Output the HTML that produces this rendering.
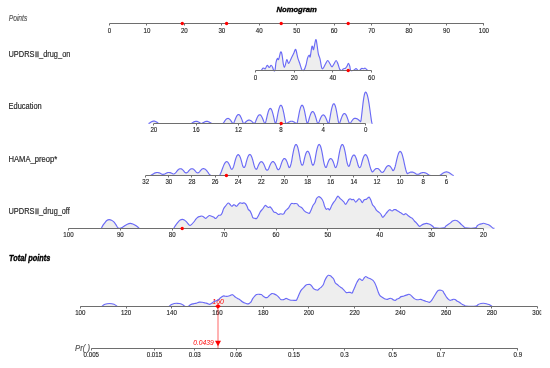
<!DOCTYPE html>
<html><head><meta charset="utf-8"><style>
html,body{margin:0;padding:0;background:#fff;}
svg{display:block;font-family:"Liberation Sans",Arial,sans-serif;}

</style></head><body>
<svg width="550" height="368" viewBox="0 0 550 368">
<rect width="550" height="368" fill="#fff"/>
<defs><clipPath id="c"><rect x="0" y="0" width="541.2" height="368"/></clipPath></defs>
<g clip-path="url(#c)">
<line x1="109.50" y1="23.5" x2="483.90" y2="23.5" stroke="#6e6e6e" stroke-width="1"/>
<line x1="109.50" y1="23.5" x2="109.50" y2="25.5" stroke="#6e6e6e" stroke-width="1"/>
<text x="109.50" y="33.00" font-size="7.0" text-anchor="middle" fill="#262626" textLength="3.43" lengthAdjust="spacingAndGlyphs" stroke="#262626" stroke-width="0.15">0</text>
<line x1="146.50" y1="23.5" x2="146.50" y2="25.5" stroke="#6e6e6e" stroke-width="1"/>
<text x="146.94" y="33.00" font-size="7.0" text-anchor="middle" fill="#262626" textLength="6.85" lengthAdjust="spacingAndGlyphs" stroke="#262626" stroke-width="0.15">10</text>
<line x1="184.50" y1="23.5" x2="184.50" y2="25.5" stroke="#6e6e6e" stroke-width="1"/>
<text x="184.38" y="33.00" font-size="7.0" text-anchor="middle" fill="#262626" textLength="6.85" lengthAdjust="spacingAndGlyphs" stroke="#262626" stroke-width="0.15">20</text>
<line x1="221.50" y1="23.5" x2="221.50" y2="25.5" stroke="#6e6e6e" stroke-width="1"/>
<text x="221.82" y="33.00" font-size="7.0" text-anchor="middle" fill="#262626" textLength="6.85" lengthAdjust="spacingAndGlyphs" stroke="#262626" stroke-width="0.15">30</text>
<line x1="259.50" y1="23.5" x2="259.50" y2="25.5" stroke="#6e6e6e" stroke-width="1"/>
<text x="259.26" y="33.00" font-size="7.0" text-anchor="middle" fill="#262626" textLength="6.85" lengthAdjust="spacingAndGlyphs" stroke="#262626" stroke-width="0.15">40</text>
<line x1="296.50" y1="23.5" x2="296.50" y2="25.5" stroke="#6e6e6e" stroke-width="1"/>
<text x="296.70" y="33.00" font-size="7.0" text-anchor="middle" fill="#262626" textLength="6.85" lengthAdjust="spacingAndGlyphs" stroke="#262626" stroke-width="0.15">50</text>
<line x1="334.50" y1="23.5" x2="334.50" y2="25.5" stroke="#6e6e6e" stroke-width="1"/>
<text x="334.14" y="33.00" font-size="7.0" text-anchor="middle" fill="#262626" textLength="6.85" lengthAdjust="spacingAndGlyphs" stroke="#262626" stroke-width="0.15">60</text>
<line x1="371.50" y1="23.5" x2="371.50" y2="25.5" stroke="#6e6e6e" stroke-width="1"/>
<text x="371.58" y="33.00" font-size="7.0" text-anchor="middle" fill="#262626" textLength="6.85" lengthAdjust="spacingAndGlyphs" stroke="#262626" stroke-width="0.15">70</text>
<line x1="409.50" y1="23.5" x2="409.50" y2="25.5" stroke="#6e6e6e" stroke-width="1"/>
<text x="409.02" y="33.00" font-size="7.0" text-anchor="middle" fill="#262626" textLength="6.85" lengthAdjust="spacingAndGlyphs" stroke="#262626" stroke-width="0.15">80</text>
<line x1="446.50" y1="23.5" x2="446.50" y2="25.5" stroke="#6e6e6e" stroke-width="1"/>
<text x="446.46" y="33.00" font-size="7.0" text-anchor="middle" fill="#262626" textLength="6.85" lengthAdjust="spacingAndGlyphs" stroke="#262626" stroke-width="0.15">90</text>
<line x1="483.50" y1="23.5" x2="483.50" y2="25.5" stroke="#6e6e6e" stroke-width="1"/>
<text x="483.90" y="33.00" font-size="7.0" text-anchor="middle" fill="#262626" textLength="10.28" lengthAdjust="spacingAndGlyphs" stroke="#262626" stroke-width="0.15">100</text>
<path d="M261.40,70.50 C261.63,70.13 262.32,68.67 262.80,68.30 C263.28,67.93 263.88,68.22 264.30,68.30 C264.72,68.38 264.82,69.30 265.30,68.80 C265.78,68.30 266.55,65.52 267.20,65.30 C267.85,65.08 268.55,67.50 269.20,67.50 C269.85,67.50 270.53,65.33 271.10,65.30 C271.67,65.27 272.18,66.48 272.60,67.30 C273.02,68.12 273.20,69.72 273.60,70.20 C274.00,70.68 274.60,71.50 275.00,70.20 C275.40,68.90 275.58,64.35 276.00,62.40 C276.42,60.45 277.05,59.02 277.50,58.50 C277.95,57.98 278.18,60.37 278.70,59.30 C279.22,58.23 280.07,52.97 280.60,52.10 C281.13,51.23 281.43,52.05 281.90,54.10 C282.37,56.15 283.00,62.20 283.40,64.40 C283.80,66.60 283.95,67.30 284.30,67.30 C284.65,67.30 285.08,65.70 285.50,64.40 C285.92,63.10 286.27,59.67 286.80,59.50 C287.33,59.33 287.97,63.57 288.70,63.40 C289.43,63.23 290.38,60.13 291.20,58.50 C292.02,56.87 292.85,55.10 293.60,53.60 C294.35,52.10 295.00,48.80 295.70,49.50 C296.40,50.20 297.12,55.47 297.80,57.80 C298.48,60.13 299.12,61.52 299.80,63.50 C300.48,65.48 301.20,68.62 301.90,69.70 C302.60,70.78 303.32,70.78 304.00,70.00 C304.68,69.22 305.40,67.03 306.00,65.00 C306.60,62.97 307.08,59.43 307.60,57.80 C308.12,56.17 308.67,55.38 309.10,55.20 C309.53,55.02 309.77,58.00 310.20,56.70 C310.63,55.40 311.32,49.12 311.70,47.40 C312.08,45.68 312.18,46.05 312.50,46.40 C312.82,46.75 313.05,50.62 313.60,49.50 C314.15,48.38 315.22,40.38 315.80,39.70 C316.38,39.02 316.67,42.98 317.10,45.40 C317.53,47.82 317.92,51.97 318.40,54.20 C318.88,56.43 319.43,56.48 320.00,58.80 C320.57,61.12 321.20,66.63 321.80,68.10 C322.40,69.57 322.95,68.37 323.60,67.60 C324.25,66.83 325.00,64.68 325.70,63.50 C326.40,62.32 327.07,60.42 327.80,60.50 C328.53,60.58 329.42,62.95 330.10,64.00 C330.78,65.05 331.28,66.77 331.90,66.80 C332.52,66.83 333.10,65.25 333.80,64.20 C334.50,63.15 335.42,60.57 336.10,60.50 C336.78,60.43 337.28,62.32 337.90,63.80 C338.52,65.28 339.18,68.28 339.80,69.40 C340.42,70.52 340.98,70.60 341.60,70.50 C342.22,70.40 342.85,69.18 343.50,68.80 C344.15,68.42 344.92,68.62 345.50,68.20 C346.08,67.78 346.52,67.12 347.00,66.30 C347.48,65.48 347.93,63.30 348.40,63.30 C348.87,63.30 349.42,65.13 349.80,66.30 C350.18,67.47 350.05,69.63 350.70,70.30 C351.35,70.97 352.82,70.60 353.70,70.30 C354.58,70.00 355.32,68.50 356.00,68.50 C356.68,68.50 357.18,70.00 357.80,70.30 C358.42,70.60 359.08,70.60 359.70,70.30 C360.32,70.00 360.88,68.77 361.50,68.50 C362.12,68.23 362.78,68.75 363.40,68.70 C364.02,68.65 364.58,67.98 365.20,68.20 C365.82,68.42 366.72,69.62 367.10,70.00 C367.48,70.38 367.43,70.42 367.50,70.50 L367.50,70.5 L261.40,70.5 Z" fill="#eeeeee" stroke="none"/>
<path d="M261.40,70.50 C261.63,70.13 262.32,68.67 262.80,68.30 C263.28,67.93 263.88,68.22 264.30,68.30 C264.72,68.38 264.82,69.30 265.30,68.80 C265.78,68.30 266.55,65.52 267.20,65.30 C267.85,65.08 268.55,67.50 269.20,67.50 C269.85,67.50 270.53,65.33 271.10,65.30 C271.67,65.27 272.18,66.48 272.60,67.30 C273.02,68.12 273.20,69.72 273.60,70.20 C274.00,70.68 274.60,71.50 275.00,70.20 C275.40,68.90 275.58,64.35 276.00,62.40 C276.42,60.45 277.05,59.02 277.50,58.50 C277.95,57.98 278.18,60.37 278.70,59.30 C279.22,58.23 280.07,52.97 280.60,52.10 C281.13,51.23 281.43,52.05 281.90,54.10 C282.37,56.15 283.00,62.20 283.40,64.40 C283.80,66.60 283.95,67.30 284.30,67.30 C284.65,67.30 285.08,65.70 285.50,64.40 C285.92,63.10 286.27,59.67 286.80,59.50 C287.33,59.33 287.97,63.57 288.70,63.40 C289.43,63.23 290.38,60.13 291.20,58.50 C292.02,56.87 292.85,55.10 293.60,53.60 C294.35,52.10 295.00,48.80 295.70,49.50 C296.40,50.20 297.12,55.47 297.80,57.80 C298.48,60.13 299.12,61.52 299.80,63.50 C300.48,65.48 301.20,68.62 301.90,69.70 C302.60,70.78 303.32,70.78 304.00,70.00 C304.68,69.22 305.40,67.03 306.00,65.00 C306.60,62.97 307.08,59.43 307.60,57.80 C308.12,56.17 308.67,55.38 309.10,55.20 C309.53,55.02 309.77,58.00 310.20,56.70 C310.63,55.40 311.32,49.12 311.70,47.40 C312.08,45.68 312.18,46.05 312.50,46.40 C312.82,46.75 313.05,50.62 313.60,49.50 C314.15,48.38 315.22,40.38 315.80,39.70 C316.38,39.02 316.67,42.98 317.10,45.40 C317.53,47.82 317.92,51.97 318.40,54.20 C318.88,56.43 319.43,56.48 320.00,58.80 C320.57,61.12 321.20,66.63 321.80,68.10 C322.40,69.57 322.95,68.37 323.60,67.60 C324.25,66.83 325.00,64.68 325.70,63.50 C326.40,62.32 327.07,60.42 327.80,60.50 C328.53,60.58 329.42,62.95 330.10,64.00 C330.78,65.05 331.28,66.77 331.90,66.80 C332.52,66.83 333.10,65.25 333.80,64.20 C334.50,63.15 335.42,60.57 336.10,60.50 C336.78,60.43 337.28,62.32 337.90,63.80 C338.52,65.28 339.18,68.28 339.80,69.40 C340.42,70.52 340.98,70.60 341.60,70.50 C342.22,70.40 342.85,69.18 343.50,68.80 C344.15,68.42 344.92,68.62 345.50,68.20 C346.08,67.78 346.52,67.12 347.00,66.30 C347.48,65.48 347.93,63.30 348.40,63.30 C348.87,63.30 349.42,65.13 349.80,66.30 C350.18,67.47 350.05,69.63 350.70,70.30 C351.35,70.97 352.82,70.60 353.70,70.30 C354.58,70.00 355.32,68.50 356.00,68.50 C356.68,68.50 357.18,70.00 357.80,70.30 C358.42,70.60 359.08,70.60 359.70,70.30 C360.32,70.00 360.88,68.77 361.50,68.50 C362.12,68.23 362.78,68.75 363.40,68.70 C364.02,68.65 364.58,67.98 365.20,68.20 C365.82,68.42 366.72,69.62 367.10,70.00 C367.48,70.38 367.43,70.42 367.50,70.50" fill="none" stroke="#6a6af6" stroke-width="1.15" stroke-linejoin="round"/>
<line x1="255.50" y1="70.5" x2="371.50" y2="70.5" stroke="#6e6e6e" stroke-width="1"/>
<line x1="255.50" y1="70.5" x2="255.50" y2="72.5" stroke="#6e6e6e" stroke-width="1"/>
<text x="255.50" y="80.00" font-size="7.0" text-anchor="middle" fill="#262626" textLength="3.43" lengthAdjust="spacingAndGlyphs" stroke="#262626" stroke-width="0.15">0</text>
<line x1="294.50" y1="70.5" x2="294.50" y2="72.5" stroke="#6e6e6e" stroke-width="1"/>
<text x="294.17" y="80.00" font-size="7.0" text-anchor="middle" fill="#262626" textLength="6.85" lengthAdjust="spacingAndGlyphs" stroke="#262626" stroke-width="0.15">20</text>
<line x1="332.50" y1="70.5" x2="332.50" y2="72.5" stroke="#6e6e6e" stroke-width="1"/>
<text x="332.83" y="80.00" font-size="7.0" text-anchor="middle" fill="#262626" textLength="6.85" lengthAdjust="spacingAndGlyphs" stroke="#262626" stroke-width="0.15">40</text>
<line x1="371.50" y1="70.5" x2="371.50" y2="72.5" stroke="#6e6e6e" stroke-width="1"/>
<text x="371.50" y="80.00" font-size="7.0" text-anchor="middle" fill="#262626" textLength="6.85" lengthAdjust="spacingAndGlyphs" stroke="#262626" stroke-width="0.15">60</text>
<path d="M148.50,123.50 L149.00,123.40 L149.50,123.10 L150.00,122.76 L150.50,122.41 L151.00,122.07 L151.50,121.77 L152.00,121.52 L152.50,121.32 L153.00,121.19 L153.50,121.11 L154.00,121.11 L154.50,121.17 L155.00,121.29 L155.50,121.48 L156.00,121.72 L156.50,122.01 L157.00,122.34 L157.50,122.69 L158.00,123.04 L158.50,123.35 L159.00,123.50 L159.50,123.50 L160.00,123.50 L160.50,123.50 L161.00,123.50 L161.50,123.50 L162.00,123.50 L162.50,123.50 L163.00,123.50 L163.50,123.50 L164.00,123.50 L164.50,123.50 L165.00,123.50 L165.50,123.50 L166.00,123.50 L166.50,123.50 L167.00,123.50 L167.50,123.50 L168.00,123.50 L168.50,123.50 L169.00,123.50 L169.50,123.50 L170.00,123.50 L170.50,123.50 L171.00,123.50 L171.50,123.50 L172.00,123.50 L172.50,123.50 L173.00,123.50 L173.50,123.50 L174.00,123.50 L174.50,123.50 L175.00,123.50 L175.50,123.50 L176.00,123.50 L176.50,123.50 L177.00,123.50 L177.50,123.50 L178.00,123.50 L178.50,123.50 L179.00,123.50 L179.50,123.50 L180.00,123.50 L180.50,123.50 L181.00,123.50 L181.50,123.50 L182.00,123.50 L182.50,123.50 L183.00,123.50 L183.50,123.50 L184.00,123.50 L184.50,123.50 L185.00,123.50 L185.50,123.50 L186.00,123.50 L186.50,123.50 L187.00,123.50 L187.50,123.50 L188.00,123.50 L188.50,123.50 L189.00,123.50 L189.50,123.50 L190.00,123.50 L190.50,123.50 L191.00,123.50 L191.50,123.34 L192.00,123.05 L192.50,122.73 L193.00,122.41 L193.50,122.11 L194.00,121.85 L194.50,121.63 L195.00,121.46 L195.50,121.35 L196.00,121.30 L196.50,121.31 L197.00,121.39 L197.50,121.52 L198.00,121.70 L198.50,121.94 L199.00,122.22 L199.50,122.52 L200.00,122.85 L200.50,123.16 L201.00,123.42 L201.50,123.50 L202.00,123.38 L202.50,123.11 L203.00,122.79 L203.50,122.47 L204.00,122.16 L204.50,121.89 L205.00,121.67 L205.50,121.49 L206.00,121.37 L206.50,121.31 L207.00,121.31 L207.50,121.37 L208.00,121.49 L208.50,121.67 L209.00,121.89 L209.50,122.16 L210.00,122.47 L210.50,122.79 L211.00,123.11 L211.50,123.38 L212.00,123.50 L212.50,123.50 L213.00,123.50 L213.50,123.50 L214.00,123.50 L214.50,123.50 L215.00,123.50 L215.50,123.50 L216.00,123.50 L216.50,123.50 L217.00,123.50 L217.50,123.50 L218.00,123.50 L218.50,123.50 L219.00,123.50 L219.50,123.50 L220.00,123.50 L220.50,123.50 L221.00,123.50 L221.50,123.50 L222.00,123.50 L222.50,123.50 L223.00,123.40 L223.50,122.83 L224.00,122.12 L224.50,121.37 L225.00,120.65 L225.50,119.99 L226.00,119.42 L226.50,118.97 L227.00,118.64 L227.50,118.45 L228.00,118.40 L228.50,118.49 L229.00,118.72 L229.50,119.09 L230.00,119.57 L230.50,120.17 L231.00,120.84 L231.50,121.58 L232.00,122.33 L232.50,123.02 L233.00,123.49 L233.50,123.44 L234.00,122.53 L234.50,121.30 L235.00,119.98 L235.50,118.69 L236.00,117.50 L236.50,116.47 L237.00,115.64 L237.50,115.02 L238.00,114.64 L238.50,114.50 L239.00,114.62 L239.50,114.98 L240.00,115.58 L240.50,116.40 L241.00,117.41 L241.50,118.59 L242.00,119.87 L242.50,121.19 L243.00,122.44 L243.50,123.39 L244.00,123.50 L244.50,123.21 L245.00,122.76 L245.50,122.26 L246.00,121.77 L246.50,121.31 L247.00,120.91 L247.50,120.58 L248.00,120.33 L248.50,120.17 L249.00,120.10 L249.50,120.13 L250.00,120.25 L250.50,120.46 L251.00,120.76 L251.50,121.13 L252.00,121.56 L252.50,122.04 L253.00,122.54 L253.50,123.02 L254.00,123.41 L254.50,123.50 L255.00,122.93 L255.50,121.80 L256.00,120.52 L256.50,119.24 L257.00,118.04 L257.50,116.97 L258.00,116.08 L258.50,115.40 L259.00,114.94 L259.50,114.72 L260.00,114.74 L260.50,115.01 L261.00,115.52 L261.50,116.24 L262.00,117.17 L262.50,118.27 L263.00,119.49 L263.50,120.78 L264.00,122.04 L264.50,123.12 L265.00,123.50 L265.50,122.82 L266.00,120.96 L266.50,118.79 L267.00,116.58 L267.50,114.48 L268.00,112.61 L268.50,111.02 L269.00,109.78 L269.50,108.92 L270.00,108.47 L270.50,108.44 L271.00,108.82 L271.50,109.62 L272.00,110.80 L272.50,112.33 L273.00,114.17 L273.50,116.23 L274.00,118.43 L274.50,120.63 L275.00,122.56 L275.50,123.50 L276.00,122.99 L276.50,120.87 L277.00,118.28 L277.50,115.59 L278.00,113.01 L278.50,110.68 L279.00,108.69 L279.50,107.11 L280.00,105.98 L280.50,105.35 L281.00,105.21 L281.50,105.59 L282.00,106.47 L282.50,107.82 L283.00,109.60 L283.50,111.76 L284.00,114.23 L284.50,116.88 L285.00,119.55 L285.50,121.98 L286.00,123.50 L286.50,123.47 L287.00,123.22 L287.50,122.90 L288.00,122.57 L288.50,122.24 L289.00,121.94 L289.50,121.68 L290.00,121.47 L290.50,121.32 L291.00,121.23 L291.50,121.20 L292.00,121.24 L292.50,121.33 L293.00,121.49 L293.50,121.71 L294.00,121.97 L294.50,122.28 L295.00,122.61 L295.50,122.94 L296.00,123.26 L296.50,123.49 L297.00,123.46 L297.50,121.72 L298.00,119.23 L298.50,116.55 L299.00,113.92 L299.50,111.49 L300.00,109.37 L300.50,107.63 L301.00,106.34 L301.50,105.52 L302.00,105.20 L302.50,105.40 L303.00,106.09 L303.50,107.28 L304.00,108.91 L304.50,110.95 L305.00,113.31 L305.50,115.91 L306.00,118.60 L306.50,121.16 L307.00,123.18 L307.50,123.50 L308.00,122.59 L308.50,121.01 L309.00,119.26 L309.50,117.52 L310.00,115.90 L310.50,114.46 L311.00,113.28 L311.50,112.37 L312.00,111.78 L312.50,111.52 L313.00,111.58 L313.50,111.98 L314.00,112.70 L314.50,113.72 L315.00,115.01 L315.50,116.53 L316.00,118.21 L316.50,119.97 L317.00,121.68 L317.50,123.10 L318.00,123.50 L318.50,123.02 L319.00,121.93 L319.50,120.69 L320.00,119.44 L320.50,118.25 L321.00,117.20 L321.50,116.31 L322.00,115.63 L322.50,115.16 L323.00,114.93 L323.50,114.93 L324.00,115.18 L324.50,115.65 L325.00,116.34 L325.50,117.24 L326.00,118.30 L326.50,119.48 L327.00,120.74 L327.50,121.98 L328.00,123.06 L328.50,123.50 L329.00,122.77 L329.50,120.39 L330.00,117.56 L330.50,114.65 L331.00,111.89 L331.50,109.40 L332.00,107.29 L332.50,105.62 L333.00,104.46 L333.50,103.82 L334.00,103.73 L334.50,104.19 L335.00,105.19 L335.50,106.70 L336.00,108.68 L336.50,111.06 L337.00,113.75 L337.50,116.62 L338.00,119.51 L338.50,122.09 L339.00,123.50 L339.50,123.29 L340.00,122.17 L340.50,120.76 L341.00,119.29 L341.50,117.88 L342.00,116.59 L342.50,115.49 L343.00,114.60 L343.50,113.97 L344.00,113.60 L344.50,113.50 L345.00,113.69 L345.50,114.14 L346.00,114.86 L346.50,115.82 L347.00,116.99 L347.50,118.32 L348.00,119.76 L348.50,121.23 L349.00,122.58 L349.50,123.49 L350.00,123.46 L350.50,122.93 L351.00,122.21 L351.50,121.45 L352.00,120.71 L352.50,120.02 L353.00,119.43 L353.50,118.95 L354.00,118.59 L354.50,118.38 L355.00,118.30 L355.50,118.33 L356.00,118.43 L356.50,118.59 L357.00,118.81 L357.50,119.09 L358.00,119.43 L358.50,119.81 L359.00,120.24 L359.50,120.71 L360.00,121.20 L360.50,121.72 L361.00,120.46 L361.50,116.54 L362.00,112.14 L362.50,107.72 L363.00,103.41 L363.50,99.62 L364.00,96.53 L364.50,94.22 L365.00,92.73 L365.50,92.12 L366.00,92.27 L366.50,92.94 L367.00,94.11 L367.50,95.78 L368.00,97.91 L368.50,100.48 L369.00,103.43 L369.50,106.72 L370.00,110.26 L370.50,113.96 L371.00,117.65 L371.50,121.07 L372.00,123.50 L372.50,123.50 L372.50,123.5 L148.50,123.5 Z" fill="#eeeeee" stroke="none"/>
<path d="M148.50,123.50 L149.00,123.40 L149.50,123.10 L150.00,122.76 L150.50,122.41 L151.00,122.07 L151.50,121.77 L152.00,121.52 L152.50,121.32 L153.00,121.19 L153.50,121.11 L154.00,121.11 L154.50,121.17 L155.00,121.29 L155.50,121.48 L156.00,121.72 L156.50,122.01 L157.00,122.34 L157.50,122.69 L158.00,123.04 L158.50,123.35 L159.00,123.50 L159.50,123.50 L160.00,123.50 L160.50,123.50 L161.00,123.50 L161.50,123.50 L162.00,123.50 L162.50,123.50 L163.00,123.50 L163.50,123.50 L164.00,123.50 L164.50,123.50 L165.00,123.50 L165.50,123.50 L166.00,123.50 L166.50,123.50 L167.00,123.50 L167.50,123.50 L168.00,123.50 L168.50,123.50 L169.00,123.50 L169.50,123.50 L170.00,123.50 L170.50,123.50 L171.00,123.50 L171.50,123.50 L172.00,123.50 L172.50,123.50 L173.00,123.50 L173.50,123.50 L174.00,123.50 L174.50,123.50 L175.00,123.50 L175.50,123.50 L176.00,123.50 L176.50,123.50 L177.00,123.50 L177.50,123.50 L178.00,123.50 L178.50,123.50 L179.00,123.50 L179.50,123.50 L180.00,123.50 L180.50,123.50 L181.00,123.50 L181.50,123.50 L182.00,123.50 L182.50,123.50 L183.00,123.50 L183.50,123.50 L184.00,123.50 L184.50,123.50 L185.00,123.50 L185.50,123.50 L186.00,123.50 L186.50,123.50 L187.00,123.50 L187.50,123.50 L188.00,123.50 L188.50,123.50 L189.00,123.50 L189.50,123.50 L190.00,123.50 L190.50,123.50 L191.00,123.50 L191.50,123.34 L192.00,123.05 L192.50,122.73 L193.00,122.41 L193.50,122.11 L194.00,121.85 L194.50,121.63 L195.00,121.46 L195.50,121.35 L196.00,121.30 L196.50,121.31 L197.00,121.39 L197.50,121.52 L198.00,121.70 L198.50,121.94 L199.00,122.22 L199.50,122.52 L200.00,122.85 L200.50,123.16 L201.00,123.42 L201.50,123.50 L202.00,123.38 L202.50,123.11 L203.00,122.79 L203.50,122.47 L204.00,122.16 L204.50,121.89 L205.00,121.67 L205.50,121.49 L206.00,121.37 L206.50,121.31 L207.00,121.31 L207.50,121.37 L208.00,121.49 L208.50,121.67 L209.00,121.89 L209.50,122.16 L210.00,122.47 L210.50,122.79 L211.00,123.11 L211.50,123.38 L212.00,123.50 L212.50,123.50 L213.00,123.50 L213.50,123.50 L214.00,123.50 L214.50,123.50 L215.00,123.50 L215.50,123.50 L216.00,123.50 L216.50,123.50 L217.00,123.50 L217.50,123.50 L218.00,123.50 L218.50,123.50 L219.00,123.50 L219.50,123.50 L220.00,123.50 L220.50,123.50 L221.00,123.50 L221.50,123.50 L222.00,123.50 L222.50,123.50 L223.00,123.40 L223.50,122.83 L224.00,122.12 L224.50,121.37 L225.00,120.65 L225.50,119.99 L226.00,119.42 L226.50,118.97 L227.00,118.64 L227.50,118.45 L228.00,118.40 L228.50,118.49 L229.00,118.72 L229.50,119.09 L230.00,119.57 L230.50,120.17 L231.00,120.84 L231.50,121.58 L232.00,122.33 L232.50,123.02 L233.00,123.49 L233.50,123.44 L234.00,122.53 L234.50,121.30 L235.00,119.98 L235.50,118.69 L236.00,117.50 L236.50,116.47 L237.00,115.64 L237.50,115.02 L238.00,114.64 L238.50,114.50 L239.00,114.62 L239.50,114.98 L240.00,115.58 L240.50,116.40 L241.00,117.41 L241.50,118.59 L242.00,119.87 L242.50,121.19 L243.00,122.44 L243.50,123.39 L244.00,123.50 L244.50,123.21 L245.00,122.76 L245.50,122.26 L246.00,121.77 L246.50,121.31 L247.00,120.91 L247.50,120.58 L248.00,120.33 L248.50,120.17 L249.00,120.10 L249.50,120.13 L250.00,120.25 L250.50,120.46 L251.00,120.76 L251.50,121.13 L252.00,121.56 L252.50,122.04 L253.00,122.54 L253.50,123.02 L254.00,123.41 L254.50,123.50 L255.00,122.93 L255.50,121.80 L256.00,120.52 L256.50,119.24 L257.00,118.04 L257.50,116.97 L258.00,116.08 L258.50,115.40 L259.00,114.94 L259.50,114.72 L260.00,114.74 L260.50,115.01 L261.00,115.52 L261.50,116.24 L262.00,117.17 L262.50,118.27 L263.00,119.49 L263.50,120.78 L264.00,122.04 L264.50,123.12 L265.00,123.50 L265.50,122.82 L266.00,120.96 L266.50,118.79 L267.00,116.58 L267.50,114.48 L268.00,112.61 L268.50,111.02 L269.00,109.78 L269.50,108.92 L270.00,108.47 L270.50,108.44 L271.00,108.82 L271.50,109.62 L272.00,110.80 L272.50,112.33 L273.00,114.17 L273.50,116.23 L274.00,118.43 L274.50,120.63 L275.00,122.56 L275.50,123.50 L276.00,122.99 L276.50,120.87 L277.00,118.28 L277.50,115.59 L278.00,113.01 L278.50,110.68 L279.00,108.69 L279.50,107.11 L280.00,105.98 L280.50,105.35 L281.00,105.21 L281.50,105.59 L282.00,106.47 L282.50,107.82 L283.00,109.60 L283.50,111.76 L284.00,114.23 L284.50,116.88 L285.00,119.55 L285.50,121.98 L286.00,123.50 L286.50,123.47 L287.00,123.22 L287.50,122.90 L288.00,122.57 L288.50,122.24 L289.00,121.94 L289.50,121.68 L290.00,121.47 L290.50,121.32 L291.00,121.23 L291.50,121.20 L292.00,121.24 L292.50,121.33 L293.00,121.49 L293.50,121.71 L294.00,121.97 L294.50,122.28 L295.00,122.61 L295.50,122.94 L296.00,123.26 L296.50,123.49 L297.00,123.46 L297.50,121.72 L298.00,119.23 L298.50,116.55 L299.00,113.92 L299.50,111.49 L300.00,109.37 L300.50,107.63 L301.00,106.34 L301.50,105.52 L302.00,105.20 L302.50,105.40 L303.00,106.09 L303.50,107.28 L304.00,108.91 L304.50,110.95 L305.00,113.31 L305.50,115.91 L306.00,118.60 L306.50,121.16 L307.00,123.18 L307.50,123.50 L308.00,122.59 L308.50,121.01 L309.00,119.26 L309.50,117.52 L310.00,115.90 L310.50,114.46 L311.00,113.28 L311.50,112.37 L312.00,111.78 L312.50,111.52 L313.00,111.58 L313.50,111.98 L314.00,112.70 L314.50,113.72 L315.00,115.01 L315.50,116.53 L316.00,118.21 L316.50,119.97 L317.00,121.68 L317.50,123.10 L318.00,123.50 L318.50,123.02 L319.00,121.93 L319.50,120.69 L320.00,119.44 L320.50,118.25 L321.00,117.20 L321.50,116.31 L322.00,115.63 L322.50,115.16 L323.00,114.93 L323.50,114.93 L324.00,115.18 L324.50,115.65 L325.00,116.34 L325.50,117.24 L326.00,118.30 L326.50,119.48 L327.00,120.74 L327.50,121.98 L328.00,123.06 L328.50,123.50 L329.00,122.77 L329.50,120.39 L330.00,117.56 L330.50,114.65 L331.00,111.89 L331.50,109.40 L332.00,107.29 L332.50,105.62 L333.00,104.46 L333.50,103.82 L334.00,103.73 L334.50,104.19 L335.00,105.19 L335.50,106.70 L336.00,108.68 L336.50,111.06 L337.00,113.75 L337.50,116.62 L338.00,119.51 L338.50,122.09 L339.00,123.50 L339.50,123.29 L340.00,122.17 L340.50,120.76 L341.00,119.29 L341.50,117.88 L342.00,116.59 L342.50,115.49 L343.00,114.60 L343.50,113.97 L344.00,113.60 L344.50,113.50 L345.00,113.69 L345.50,114.14 L346.00,114.86 L346.50,115.82 L347.00,116.99 L347.50,118.32 L348.00,119.76 L348.50,121.23 L349.00,122.58 L349.50,123.49 L350.00,123.46 L350.50,122.93 L351.00,122.21 L351.50,121.45 L352.00,120.71 L352.50,120.02 L353.00,119.43 L353.50,118.95 L354.00,118.59 L354.50,118.38 L355.00,118.30 L355.50,118.33 L356.00,118.43 L356.50,118.59 L357.00,118.81 L357.50,119.09 L358.00,119.43 L358.50,119.81 L359.00,120.24 L359.50,120.71 L360.00,121.20 L360.50,121.72 L361.00,120.46 L361.50,116.54 L362.00,112.14 L362.50,107.72 L363.00,103.41 L363.50,99.62 L364.00,96.53 L364.50,94.22 L365.00,92.73 L365.50,92.12 L366.00,92.27 L366.50,92.94 L367.00,94.11 L367.50,95.78 L368.00,97.91 L368.50,100.48 L369.00,103.43 L369.50,106.72 L370.00,110.26 L370.50,113.96 L371.00,117.65 L371.50,121.07 L372.00,123.50 L372.50,123.50" fill="none" stroke="#6a6af6" stroke-width="1.15" stroke-linejoin="round"/>
<line x1="153.80" y1="123.5" x2="365.60" y2="123.5" stroke="#6e6e6e" stroke-width="1"/>
<line x1="153.50" y1="123.5" x2="153.50" y2="125.5" stroke="#6e6e6e" stroke-width="1"/>
<text x="153.80" y="132.00" font-size="7.0" text-anchor="middle" fill="#262626" textLength="6.85" lengthAdjust="spacingAndGlyphs" stroke="#262626" stroke-width="0.15">20</text>
<line x1="196.50" y1="123.5" x2="196.50" y2="125.5" stroke="#6e6e6e" stroke-width="1"/>
<text x="196.16" y="132.00" font-size="7.0" text-anchor="middle" fill="#262626" textLength="6.85" lengthAdjust="spacingAndGlyphs" stroke="#262626" stroke-width="0.15">16</text>
<line x1="238.50" y1="123.5" x2="238.50" y2="125.5" stroke="#6e6e6e" stroke-width="1"/>
<text x="238.52" y="132.00" font-size="7.0" text-anchor="middle" fill="#262626" textLength="6.85" lengthAdjust="spacingAndGlyphs" stroke="#262626" stroke-width="0.15">12</text>
<line x1="280.50" y1="123.5" x2="280.50" y2="125.5" stroke="#6e6e6e" stroke-width="1"/>
<text x="280.88" y="132.00" font-size="7.0" text-anchor="middle" fill="#262626" textLength="3.43" lengthAdjust="spacingAndGlyphs" stroke="#262626" stroke-width="0.15">8</text>
<line x1="323.50" y1="123.5" x2="323.50" y2="125.5" stroke="#6e6e6e" stroke-width="1"/>
<text x="323.24" y="132.00" font-size="7.0" text-anchor="middle" fill="#262626" textLength="3.43" lengthAdjust="spacingAndGlyphs" stroke="#262626" stroke-width="0.15">4</text>
<line x1="365.50" y1="123.5" x2="365.50" y2="125.5" stroke="#6e6e6e" stroke-width="1"/>
<text x="365.60" y="132.00" font-size="7.0" text-anchor="middle" fill="#262626" textLength="3.43" lengthAdjust="spacingAndGlyphs" stroke="#262626" stroke-width="0.15">0</text>
<path d="M149.70,175.50 L150.20,175.44 L150.70,175.28 L151.20,175.07 L151.70,174.81 L152.20,174.52 L152.70,174.22 L153.20,173.92 L153.70,173.63 L154.20,173.35 L154.70,173.11 L155.20,172.90 L155.70,172.73 L156.20,172.60 L156.70,172.52 L157.20,172.49 L157.70,172.51 L158.20,172.58 L158.70,172.69 L159.20,172.85 L159.70,173.05 L160.20,173.29 L160.70,173.55 L161.20,173.84 L161.70,174.09 L162.20,174.25 L162.70,174.33 L163.20,174.35 L163.70,174.29 L164.20,174.16 L164.70,173.95 L165.20,173.66 L165.70,173.39 L166.20,173.14 L166.70,172.92 L167.20,172.75 L167.70,172.62 L168.20,172.53 L168.70,172.49 L169.20,172.50 L169.70,172.56 L170.20,172.67 L170.70,172.83 L171.20,173.02 L171.70,173.25 L172.20,173.52 L172.70,173.80 L173.20,174.02 L173.70,174.02 L174.20,173.86 L174.70,173.57 L175.20,173.17 L175.70,172.68 L176.20,172.10 L176.70,171.44 L177.20,170.81 L177.70,170.25 L178.20,169.75 L178.70,169.34 L179.20,169.03 L179.70,168.82 L180.20,168.72 L180.70,168.73 L181.20,168.85 L181.70,169.09 L182.20,169.42 L182.70,169.85 L183.20,170.36 L183.70,170.95 L184.20,171.58 L184.70,172.20 L185.20,172.61 L185.70,172.84 L186.20,172.91 L186.70,172.82 L187.20,172.58 L187.70,172.15 L188.20,171.53 L188.70,170.89 L189.20,170.32 L189.70,169.81 L190.20,169.39 L190.70,169.06 L191.20,168.84 L191.70,168.73 L192.20,168.72 L192.70,168.83 L193.20,169.05 L193.70,169.37 L194.20,169.79 L194.70,170.29 L195.20,170.87 L195.70,171.50 L196.20,172.13 L196.70,172.56 L197.20,172.80 L197.70,172.89 L198.20,172.81 L198.70,172.58 L199.20,172.17 L199.70,171.55 L200.20,170.90 L200.70,170.31 L201.20,169.78 L201.70,169.34 L202.20,169.00 L202.70,168.75 L203.20,168.62 L203.70,168.61 L204.20,168.70 L204.70,168.91 L205.20,169.22 L205.70,169.64 L206.20,170.14 L206.70,170.71 L207.20,171.35 L207.70,172.02 L208.20,172.71 L208.70,173.40 L209.20,174.05 L209.70,174.63 L210.20,175.10 L210.70,175.41 L211.20,175.50 L211.70,175.50 L212.20,175.50 L212.70,175.50 L213.20,175.50 L213.70,175.50 L214.20,175.50 L214.70,175.50 L215.20,175.50 L215.70,175.50 L216.20,175.50 L216.70,175.50 L217.20,175.50 L217.70,175.50 L218.20,175.50 L218.70,175.50 L219.20,175.48 L219.70,175.09 L220.20,174.32 L220.70,173.27 L221.20,172.04 L221.70,170.70 L222.20,169.31 L222.70,167.93 L223.20,166.61 L223.70,165.38 L224.20,164.29 L224.70,163.36 L225.20,162.61 L225.70,162.08 L226.20,161.76 L226.70,161.66 L227.20,161.79 L227.70,162.15 L228.20,162.73 L228.70,163.50 L229.20,164.46 L229.70,165.58 L230.20,166.82 L230.70,168.16 L231.20,169.04 L231.70,169.33 L232.20,169.12 L232.70,168.50 L233.20,167.51 L233.70,166.14 L234.20,164.36 L234.70,162.36 L235.20,160.49 L235.70,158.81 L236.20,157.37 L236.70,156.22 L237.20,155.36 L237.70,154.84 L238.20,154.65 L238.70,154.81 L239.20,155.30 L239.70,156.12 L240.20,157.26 L240.70,158.67 L241.20,160.32 L241.70,162.18 L242.20,164.18 L242.70,165.85 L243.20,166.90 L243.70,167.42 L244.20,167.45 L244.70,167.01 L245.20,166.05 L245.70,164.51 L246.20,162.48 L246.70,160.57 L247.20,158.85 L247.70,157.37 L248.20,156.16 L248.70,155.26 L249.20,154.68 L249.70,154.45 L250.20,154.56 L250.70,155.01 L251.20,155.80 L251.70,156.91 L252.20,158.30 L252.70,159.94 L253.20,161.79 L253.70,163.79 L254.20,165.68 L254.70,167.16 L255.20,168.26 L255.70,168.98 L256.20,169.30 L256.70,169.14 L257.20,168.41 L257.70,167.11 L258.20,165.84 L258.70,164.69 L259.20,163.69 L259.70,162.87 L260.20,162.25 L260.70,161.84 L261.20,161.66 L261.70,161.70 L262.20,161.98 L262.70,162.47 L263.20,163.17 L263.70,164.06 L264.20,165.12 L264.70,166.32 L265.20,167.62 L265.70,168.85 L266.20,169.65 L266.70,170.08 L267.20,170.20 L267.70,169.99 L268.20,169.46 L268.70,168.55 L269.20,167.25 L269.70,165.97 L270.20,164.79 L270.70,163.77 L271.20,162.92 L271.70,162.27 L272.20,161.84 L272.70,161.62 L273.20,161.64 L273.70,161.88 L274.20,162.34 L274.70,163.02 L275.20,163.89 L275.70,164.93 L276.20,166.12 L276.70,167.42 L277.20,168.67 L277.70,169.40 L278.20,169.69 L278.70,169.60 L279.20,169.16 L279.70,168.37 L280.20,167.21 L280.70,165.64 L281.20,164.05 L281.70,162.60 L282.20,161.32 L282.70,160.26 L283.20,159.43 L283.70,158.86 L284.20,158.57 L284.70,158.55 L285.20,158.81 L285.70,159.34 L286.20,160.13 L286.70,161.16 L287.20,162.41 L287.70,163.84 L288.20,165.41 L288.70,166.94 L289.20,167.56 L289.70,167.36 L290.20,166.50 L290.70,165.08 L291.20,163.17 L291.70,160.78 L292.20,157.89 L292.70,154.97 L293.20,152.28 L293.70,149.90 L294.20,147.91 L294.70,146.34 L295.20,145.23 L295.70,144.63 L296.20,144.52 L296.70,144.93 L297.20,145.84 L297.70,147.22 L298.20,149.06 L298.70,151.29 L299.20,153.86 L299.70,156.70 L300.20,159.67 L300.70,162.03 L301.20,163.71 L301.70,164.77 L302.20,165.21 L302.70,164.98 L303.20,163.98 L303.70,162.02 L304.20,159.71 L304.70,157.58 L305.20,155.69 L305.70,154.08 L306.20,152.81 L306.70,151.90 L307.20,151.37 L307.70,151.24 L308.20,151.50 L308.70,152.16 L309.20,153.20 L309.70,154.59 L310.20,156.30 L310.70,158.28 L311.20,160.48 L311.70,162.81 L312.20,164.41 L312.70,165.13 L313.20,165.12 L313.70,164.46 L314.20,163.19 L314.70,161.28 L315.20,158.65 L315.70,155.67 L316.20,152.91 L316.70,150.44 L317.20,148.34 L317.70,146.65 L318.20,145.42 L318.70,144.68 L319.20,144.44 L319.70,144.72 L320.20,145.50 L320.70,146.76 L321.20,148.48 L321.70,150.62 L322.20,153.11 L322.70,155.90 L323.20,158.89 L323.70,161.62 L324.20,163.85 L324.70,165.61 L325.20,166.86 L325.70,167.52 L326.20,167.48 L326.70,166.53 L327.20,164.91 L327.70,163.38 L328.20,162.01 L328.70,160.84 L329.20,159.89 L329.70,159.19 L330.20,158.75 L330.70,158.58 L331.20,158.69 L331.70,159.08 L332.20,159.74 L332.70,160.65 L333.20,161.78 L333.70,163.12 L334.20,164.62 L334.70,166.23 L335.20,167.38 L335.70,167.57 L336.20,167.03 L336.70,165.89 L337.20,164.22 L337.70,162.08 L338.20,159.45 L338.70,156.45 L339.20,153.63 L339.70,151.08 L340.20,148.87 L340.70,147.07 L341.20,145.72 L341.70,144.85 L342.20,144.48 L342.70,144.62 L343.20,145.27 L343.70,146.41 L344.20,148.02 L344.70,150.05 L345.20,152.45 L345.70,155.16 L346.20,158.11 L346.70,160.92 L347.20,163.11 L347.70,164.75 L348.20,165.83 L348.70,166.32 L349.20,166.11 L349.70,165.07 L350.20,163.15 L350.70,161.26 L351.20,159.55 L351.70,158.06 L352.20,156.83 L352.70,155.90 L353.20,155.28 L353.70,154.99 L354.20,155.04 L354.70,155.43 L355.20,156.14 L355.70,157.16 L356.20,158.47 L356.70,160.03 L357.20,161.80 L357.70,163.73 L358.20,165.57 L358.70,166.77 L359.20,167.42 L359.70,167.59 L360.20,167.28 L360.70,166.49 L361.20,165.15 L361.70,163.21 L362.20,161.26 L362.70,159.49 L363.20,157.95 L363.70,156.66 L364.20,155.67 L364.70,155.00 L365.20,154.66 L365.70,154.67 L366.20,155.01 L366.70,155.70 L367.20,156.70 L367.70,157.99 L368.20,159.55 L368.70,161.32 L369.20,163.27 L369.70,165.28 L370.20,167.11 L370.70,168.73 L371.20,170.10 L371.70,171.16 L372.20,171.82 L372.70,171.95 L373.20,171.44 L373.70,170.78 L374.20,170.17 L374.70,169.64 L375.20,169.19 L375.70,168.84 L376.20,168.60 L376.70,168.47 L377.20,168.46 L377.70,168.56 L378.20,168.78 L378.70,169.10 L379.20,169.53 L379.70,170.04 L380.20,170.63 L380.70,171.28 L381.20,171.94 L381.70,172.31 L382.20,172.42 L382.70,172.30 L383.20,172.00 L383.70,171.50 L384.20,170.82 L384.70,169.92 L385.20,168.98 L385.70,168.12 L386.20,167.36 L386.70,166.71 L387.20,166.21 L387.70,165.85 L388.20,165.65 L388.70,165.61 L389.20,165.73 L389.70,166.01 L390.20,166.45 L390.70,167.03 L391.20,167.73 L391.70,168.55 L392.20,169.45 L392.70,170.38 L393.20,170.66 L393.70,170.27 L394.20,169.37 L394.70,168.06 L395.20,166.41 L395.70,164.47 L396.20,162.23 L396.70,159.93 L397.20,157.80 L397.70,155.91 L398.20,154.30 L398.70,153.02 L399.20,152.10 L399.70,151.55 L400.20,151.40 L400.70,151.65 L401.20,152.29 L401.70,153.30 L402.20,154.67 L402.70,156.35 L403.20,158.30 L403.70,160.48 L404.20,162.81 L404.70,165.14 L405.20,167.36 L405.70,169.41 L406.20,171.19 L406.70,172.59 L407.20,173.47 L407.70,173.63 L408.20,173.30 L408.70,172.99 L409.20,172.71 L409.70,172.48 L410.20,172.28 L410.70,172.14 L411.20,172.06 L411.70,172.03 L412.20,172.06 L412.70,172.14 L413.20,172.28 L413.70,172.47 L414.20,172.71 L414.70,172.99 L415.20,173.29 L415.70,173.63 L416.20,173.91 L416.70,174.11 L417.20,174.23 L417.70,174.28 L418.20,174.26 L418.70,174.15 L419.20,173.94 L419.70,173.65 L420.20,173.38 L420.70,173.14 L421.20,172.94 L421.70,172.77 L422.20,172.64 L422.70,172.56 L423.20,172.53 L423.70,172.55 L424.20,172.61 L424.70,172.73 L425.20,172.88 L425.70,173.08 L426.20,173.31 L426.70,173.58 L427.20,173.86 L427.70,174.16 L428.20,174.45 L428.70,174.74 L429.20,175.01 L429.70,175.24 L430.20,175.41 L430.70,175.49 L431.20,175.50 L431.70,175.50 L432.20,175.50 L432.70,175.50 L433.20,175.50 L433.70,175.50 L434.20,175.50 L434.70,175.50 L435.20,175.50 L435.70,175.50 L436.20,175.50 L436.70,175.50 L437.20,175.50 L437.70,175.50 L438.20,175.50 L438.70,175.50 L439.20,175.46 L439.70,175.30 L440.20,175.06 L440.70,174.76 L441.20,174.42 L441.70,174.07 L442.20,173.70 L442.70,173.35 L443.20,173.02 L443.70,172.72 L444.20,172.45 L444.70,172.24 L445.20,172.07 L445.70,171.96 L446.20,171.90 L446.70,171.91 L447.20,171.98 L447.70,172.10 L448.20,172.27 L448.70,172.50 L449.20,172.77 L449.70,173.08 L450.20,173.42 L450.70,173.78 L451.20,174.14 L451.70,174.49 L452.20,174.82 L452.70,175.11 L453.20,175.34 L453.70,175.48 L453.70,175.5 L149.70,175.5 Z" fill="#eeeeee" stroke="none"/>
<path d="M149.70,175.50 L150.20,175.44 L150.70,175.28 L151.20,175.07 L151.70,174.81 L152.20,174.52 L152.70,174.22 L153.20,173.92 L153.70,173.63 L154.20,173.35 L154.70,173.11 L155.20,172.90 L155.70,172.73 L156.20,172.60 L156.70,172.52 L157.20,172.49 L157.70,172.51 L158.20,172.58 L158.70,172.69 L159.20,172.85 L159.70,173.05 L160.20,173.29 L160.70,173.55 L161.20,173.84 L161.70,174.09 L162.20,174.25 L162.70,174.33 L163.20,174.35 L163.70,174.29 L164.20,174.16 L164.70,173.95 L165.20,173.66 L165.70,173.39 L166.20,173.14 L166.70,172.92 L167.20,172.75 L167.70,172.62 L168.20,172.53 L168.70,172.49 L169.20,172.50 L169.70,172.56 L170.20,172.67 L170.70,172.83 L171.20,173.02 L171.70,173.25 L172.20,173.52 L172.70,173.80 L173.20,174.02 L173.70,174.02 L174.20,173.86 L174.70,173.57 L175.20,173.17 L175.70,172.68 L176.20,172.10 L176.70,171.44 L177.20,170.81 L177.70,170.25 L178.20,169.75 L178.70,169.34 L179.20,169.03 L179.70,168.82 L180.20,168.72 L180.70,168.73 L181.20,168.85 L181.70,169.09 L182.20,169.42 L182.70,169.85 L183.20,170.36 L183.70,170.95 L184.20,171.58 L184.70,172.20 L185.20,172.61 L185.70,172.84 L186.20,172.91 L186.70,172.82 L187.20,172.58 L187.70,172.15 L188.20,171.53 L188.70,170.89 L189.20,170.32 L189.70,169.81 L190.20,169.39 L190.70,169.06 L191.20,168.84 L191.70,168.73 L192.20,168.72 L192.70,168.83 L193.20,169.05 L193.70,169.37 L194.20,169.79 L194.70,170.29 L195.20,170.87 L195.70,171.50 L196.20,172.13 L196.70,172.56 L197.20,172.80 L197.70,172.89 L198.20,172.81 L198.70,172.58 L199.20,172.17 L199.70,171.55 L200.20,170.90 L200.70,170.31 L201.20,169.78 L201.70,169.34 L202.20,169.00 L202.70,168.75 L203.20,168.62 L203.70,168.61 L204.20,168.70 L204.70,168.91 L205.20,169.22 L205.70,169.64 L206.20,170.14 L206.70,170.71 L207.20,171.35 L207.70,172.02 L208.20,172.71 L208.70,173.40 L209.20,174.05 L209.70,174.63 L210.20,175.10 L210.70,175.41 L211.20,175.50 L211.70,175.50 L212.20,175.50 L212.70,175.50 L213.20,175.50 L213.70,175.50 L214.20,175.50 L214.70,175.50 L215.20,175.50 L215.70,175.50 L216.20,175.50 L216.70,175.50 L217.20,175.50 L217.70,175.50 L218.20,175.50 L218.70,175.50 L219.20,175.48 L219.70,175.09 L220.20,174.32 L220.70,173.27 L221.20,172.04 L221.70,170.70 L222.20,169.31 L222.70,167.93 L223.20,166.61 L223.70,165.38 L224.20,164.29 L224.70,163.36 L225.20,162.61 L225.70,162.08 L226.20,161.76 L226.70,161.66 L227.20,161.79 L227.70,162.15 L228.20,162.73 L228.70,163.50 L229.20,164.46 L229.70,165.58 L230.20,166.82 L230.70,168.16 L231.20,169.04 L231.70,169.33 L232.20,169.12 L232.70,168.50 L233.20,167.51 L233.70,166.14 L234.20,164.36 L234.70,162.36 L235.20,160.49 L235.70,158.81 L236.20,157.37 L236.70,156.22 L237.20,155.36 L237.70,154.84 L238.20,154.65 L238.70,154.81 L239.20,155.30 L239.70,156.12 L240.20,157.26 L240.70,158.67 L241.20,160.32 L241.70,162.18 L242.20,164.18 L242.70,165.85 L243.20,166.90 L243.70,167.42 L244.20,167.45 L244.70,167.01 L245.20,166.05 L245.70,164.51 L246.20,162.48 L246.70,160.57 L247.20,158.85 L247.70,157.37 L248.20,156.16 L248.70,155.26 L249.20,154.68 L249.70,154.45 L250.20,154.56 L250.70,155.01 L251.20,155.80 L251.70,156.91 L252.20,158.30 L252.70,159.94 L253.20,161.79 L253.70,163.79 L254.20,165.68 L254.70,167.16 L255.20,168.26 L255.70,168.98 L256.20,169.30 L256.70,169.14 L257.20,168.41 L257.70,167.11 L258.20,165.84 L258.70,164.69 L259.20,163.69 L259.70,162.87 L260.20,162.25 L260.70,161.84 L261.20,161.66 L261.70,161.70 L262.20,161.98 L262.70,162.47 L263.20,163.17 L263.70,164.06 L264.20,165.12 L264.70,166.32 L265.20,167.62 L265.70,168.85 L266.20,169.65 L266.70,170.08 L267.20,170.20 L267.70,169.99 L268.20,169.46 L268.70,168.55 L269.20,167.25 L269.70,165.97 L270.20,164.79 L270.70,163.77 L271.20,162.92 L271.70,162.27 L272.20,161.84 L272.70,161.62 L273.20,161.64 L273.70,161.88 L274.20,162.34 L274.70,163.02 L275.20,163.89 L275.70,164.93 L276.20,166.12 L276.70,167.42 L277.20,168.67 L277.70,169.40 L278.20,169.69 L278.70,169.60 L279.20,169.16 L279.70,168.37 L280.20,167.21 L280.70,165.64 L281.20,164.05 L281.70,162.60 L282.20,161.32 L282.70,160.26 L283.20,159.43 L283.70,158.86 L284.20,158.57 L284.70,158.55 L285.20,158.81 L285.70,159.34 L286.20,160.13 L286.70,161.16 L287.20,162.41 L287.70,163.84 L288.20,165.41 L288.70,166.94 L289.20,167.56 L289.70,167.36 L290.20,166.50 L290.70,165.08 L291.20,163.17 L291.70,160.78 L292.20,157.89 L292.70,154.97 L293.20,152.28 L293.70,149.90 L294.20,147.91 L294.70,146.34 L295.20,145.23 L295.70,144.63 L296.20,144.52 L296.70,144.93 L297.20,145.84 L297.70,147.22 L298.20,149.06 L298.70,151.29 L299.20,153.86 L299.70,156.70 L300.20,159.67 L300.70,162.03 L301.20,163.71 L301.70,164.77 L302.20,165.21 L302.70,164.98 L303.20,163.98 L303.70,162.02 L304.20,159.71 L304.70,157.58 L305.20,155.69 L305.70,154.08 L306.20,152.81 L306.70,151.90 L307.20,151.37 L307.70,151.24 L308.20,151.50 L308.70,152.16 L309.20,153.20 L309.70,154.59 L310.20,156.30 L310.70,158.28 L311.20,160.48 L311.70,162.81 L312.20,164.41 L312.70,165.13 L313.20,165.12 L313.70,164.46 L314.20,163.19 L314.70,161.28 L315.20,158.65 L315.70,155.67 L316.20,152.91 L316.70,150.44 L317.20,148.34 L317.70,146.65 L318.20,145.42 L318.70,144.68 L319.20,144.44 L319.70,144.72 L320.20,145.50 L320.70,146.76 L321.20,148.48 L321.70,150.62 L322.20,153.11 L322.70,155.90 L323.20,158.89 L323.70,161.62 L324.20,163.85 L324.70,165.61 L325.20,166.86 L325.70,167.52 L326.20,167.48 L326.70,166.53 L327.20,164.91 L327.70,163.38 L328.20,162.01 L328.70,160.84 L329.20,159.89 L329.70,159.19 L330.20,158.75 L330.70,158.58 L331.20,158.69 L331.70,159.08 L332.20,159.74 L332.70,160.65 L333.20,161.78 L333.70,163.12 L334.20,164.62 L334.70,166.23 L335.20,167.38 L335.70,167.57 L336.20,167.03 L336.70,165.89 L337.20,164.22 L337.70,162.08 L338.20,159.45 L338.70,156.45 L339.20,153.63 L339.70,151.08 L340.20,148.87 L340.70,147.07 L341.20,145.72 L341.70,144.85 L342.20,144.48 L342.70,144.62 L343.20,145.27 L343.70,146.41 L344.20,148.02 L344.70,150.05 L345.20,152.45 L345.70,155.16 L346.20,158.11 L346.70,160.92 L347.20,163.11 L347.70,164.75 L348.20,165.83 L348.70,166.32 L349.20,166.11 L349.70,165.07 L350.20,163.15 L350.70,161.26 L351.20,159.55 L351.70,158.06 L352.20,156.83 L352.70,155.90 L353.20,155.28 L353.70,154.99 L354.20,155.04 L354.70,155.43 L355.20,156.14 L355.70,157.16 L356.20,158.47 L356.70,160.03 L357.20,161.80 L357.70,163.73 L358.20,165.57 L358.70,166.77 L359.20,167.42 L359.70,167.59 L360.20,167.28 L360.70,166.49 L361.20,165.15 L361.70,163.21 L362.20,161.26 L362.70,159.49 L363.20,157.95 L363.70,156.66 L364.20,155.67 L364.70,155.00 L365.20,154.66 L365.70,154.67 L366.20,155.01 L366.70,155.70 L367.20,156.70 L367.70,157.99 L368.20,159.55 L368.70,161.32 L369.20,163.27 L369.70,165.28 L370.20,167.11 L370.70,168.73 L371.20,170.10 L371.70,171.16 L372.20,171.82 L372.70,171.95 L373.20,171.44 L373.70,170.78 L374.20,170.17 L374.70,169.64 L375.20,169.19 L375.70,168.84 L376.20,168.60 L376.70,168.47 L377.20,168.46 L377.70,168.56 L378.20,168.78 L378.70,169.10 L379.20,169.53 L379.70,170.04 L380.20,170.63 L380.70,171.28 L381.20,171.94 L381.70,172.31 L382.20,172.42 L382.70,172.30 L383.20,172.00 L383.70,171.50 L384.20,170.82 L384.70,169.92 L385.20,168.98 L385.70,168.12 L386.20,167.36 L386.70,166.71 L387.20,166.21 L387.70,165.85 L388.20,165.65 L388.70,165.61 L389.20,165.73 L389.70,166.01 L390.20,166.45 L390.70,167.03 L391.20,167.73 L391.70,168.55 L392.20,169.45 L392.70,170.38 L393.20,170.66 L393.70,170.27 L394.20,169.37 L394.70,168.06 L395.20,166.41 L395.70,164.47 L396.20,162.23 L396.70,159.93 L397.20,157.80 L397.70,155.91 L398.20,154.30 L398.70,153.02 L399.20,152.10 L399.70,151.55 L400.20,151.40 L400.70,151.65 L401.20,152.29 L401.70,153.30 L402.20,154.67 L402.70,156.35 L403.20,158.30 L403.70,160.48 L404.20,162.81 L404.70,165.14 L405.20,167.36 L405.70,169.41 L406.20,171.19 L406.70,172.59 L407.20,173.47 L407.70,173.63 L408.20,173.30 L408.70,172.99 L409.20,172.71 L409.70,172.48 L410.20,172.28 L410.70,172.14 L411.20,172.06 L411.70,172.03 L412.20,172.06 L412.70,172.14 L413.20,172.28 L413.70,172.47 L414.20,172.71 L414.70,172.99 L415.20,173.29 L415.70,173.63 L416.20,173.91 L416.70,174.11 L417.20,174.23 L417.70,174.28 L418.20,174.26 L418.70,174.15 L419.20,173.94 L419.70,173.65 L420.20,173.38 L420.70,173.14 L421.20,172.94 L421.70,172.77 L422.20,172.64 L422.70,172.56 L423.20,172.53 L423.70,172.55 L424.20,172.61 L424.70,172.73 L425.20,172.88 L425.70,173.08 L426.20,173.31 L426.70,173.58 L427.20,173.86 L427.70,174.16 L428.20,174.45 L428.70,174.74 L429.20,175.01 L429.70,175.24 L430.20,175.41 L430.70,175.49 L431.20,175.50 L431.70,175.50 L432.20,175.50 L432.70,175.50 L433.20,175.50 L433.70,175.50 L434.20,175.50 L434.70,175.50 L435.20,175.50 L435.70,175.50 L436.20,175.50 L436.70,175.50 L437.20,175.50 L437.70,175.50 L438.20,175.50 L438.70,175.50 L439.20,175.46 L439.70,175.30 L440.20,175.06 L440.70,174.76 L441.20,174.42 L441.70,174.07 L442.20,173.70 L442.70,173.35 L443.20,173.02 L443.70,172.72 L444.20,172.45 L444.70,172.24 L445.20,172.07 L445.70,171.96 L446.20,171.90 L446.70,171.91 L447.20,171.98 L447.70,172.10 L448.20,172.27 L448.70,172.50 L449.20,172.77 L449.70,173.08 L450.20,173.42 L450.70,173.78 L451.20,174.14 L451.70,174.49 L452.20,174.82 L452.70,175.11 L453.20,175.34 L453.70,175.48" fill="none" stroke="#6a6af6" stroke-width="1.15" stroke-linejoin="round"/>
<line x1="145.70" y1="175.5" x2="446.40" y2="175.5" stroke="#6e6e6e" stroke-width="1"/>
<line x1="145.50" y1="175.5" x2="145.50" y2="177.5" stroke="#6e6e6e" stroke-width="1"/>
<text x="145.70" y="184.00" font-size="7.0" text-anchor="middle" fill="#262626" textLength="6.85" lengthAdjust="spacingAndGlyphs" stroke="#262626" stroke-width="0.15">32</text>
<line x1="168.50" y1="175.5" x2="168.50" y2="177.5" stroke="#6e6e6e" stroke-width="1"/>
<text x="168.83" y="184.00" font-size="7.0" text-anchor="middle" fill="#262626" textLength="6.85" lengthAdjust="spacingAndGlyphs" stroke="#262626" stroke-width="0.15">30</text>
<line x1="191.50" y1="175.5" x2="191.50" y2="177.5" stroke="#6e6e6e" stroke-width="1"/>
<text x="191.96" y="184.00" font-size="7.0" text-anchor="middle" fill="#262626" textLength="6.85" lengthAdjust="spacingAndGlyphs" stroke="#262626" stroke-width="0.15">28</text>
<line x1="215.50" y1="175.5" x2="215.50" y2="177.5" stroke="#6e6e6e" stroke-width="1"/>
<text x="215.09" y="184.00" font-size="7.0" text-anchor="middle" fill="#262626" textLength="6.85" lengthAdjust="spacingAndGlyphs" stroke="#262626" stroke-width="0.15">26</text>
<line x1="238.50" y1="175.5" x2="238.50" y2="177.5" stroke="#6e6e6e" stroke-width="1"/>
<text x="238.22" y="184.00" font-size="7.0" text-anchor="middle" fill="#262626" textLength="6.85" lengthAdjust="spacingAndGlyphs" stroke="#262626" stroke-width="0.15">24</text>
<line x1="261.50" y1="175.5" x2="261.50" y2="177.5" stroke="#6e6e6e" stroke-width="1"/>
<text x="261.35" y="184.00" font-size="7.0" text-anchor="middle" fill="#262626" textLength="6.85" lengthAdjust="spacingAndGlyphs" stroke="#262626" stroke-width="0.15">22</text>
<line x1="284.50" y1="175.5" x2="284.50" y2="177.5" stroke="#6e6e6e" stroke-width="1"/>
<text x="284.48" y="184.00" font-size="7.0" text-anchor="middle" fill="#262626" textLength="6.85" lengthAdjust="spacingAndGlyphs" stroke="#262626" stroke-width="0.15">20</text>
<line x1="307.50" y1="175.5" x2="307.50" y2="177.5" stroke="#6e6e6e" stroke-width="1"/>
<text x="307.62" y="184.00" font-size="7.0" text-anchor="middle" fill="#262626" textLength="6.85" lengthAdjust="spacingAndGlyphs" stroke="#262626" stroke-width="0.15">18</text>
<line x1="330.50" y1="175.5" x2="330.50" y2="177.5" stroke="#6e6e6e" stroke-width="1"/>
<text x="330.75" y="184.00" font-size="7.0" text-anchor="middle" fill="#262626" textLength="6.85" lengthAdjust="spacingAndGlyphs" stroke="#262626" stroke-width="0.15">16</text>
<line x1="353.50" y1="175.5" x2="353.50" y2="177.5" stroke="#6e6e6e" stroke-width="1"/>
<text x="353.88" y="184.00" font-size="7.0" text-anchor="middle" fill="#262626" textLength="6.85" lengthAdjust="spacingAndGlyphs" stroke="#262626" stroke-width="0.15">14</text>
<line x1="377.50" y1="175.5" x2="377.50" y2="177.5" stroke="#6e6e6e" stroke-width="1"/>
<text x="377.01" y="184.00" font-size="7.0" text-anchor="middle" fill="#262626" textLength="6.85" lengthAdjust="spacingAndGlyphs" stroke="#262626" stroke-width="0.15">12</text>
<line x1="400.50" y1="175.5" x2="400.50" y2="177.5" stroke="#6e6e6e" stroke-width="1"/>
<text x="400.14" y="184.00" font-size="7.0" text-anchor="middle" fill="#262626" textLength="6.85" lengthAdjust="spacingAndGlyphs" stroke="#262626" stroke-width="0.15">10</text>
<line x1="423.50" y1="175.5" x2="423.50" y2="177.5" stroke="#6e6e6e" stroke-width="1"/>
<text x="423.27" y="184.00" font-size="7.0" text-anchor="middle" fill="#262626" textLength="3.43" lengthAdjust="spacingAndGlyphs" stroke="#262626" stroke-width="0.15">8</text>
<line x1="446.50" y1="175.5" x2="446.50" y2="177.5" stroke="#6e6e6e" stroke-width="1"/>
<text x="446.40" y="184.00" font-size="7.0" text-anchor="middle" fill="#262626" textLength="3.43" lengthAdjust="spacingAndGlyphs" stroke="#262626" stroke-width="0.15">6</text>
<path d="M101.40,228.20 C101.70,227.65 102.60,225.83 103.20,224.90 C103.80,223.97 104.40,223.33 105.00,222.60 C105.60,221.87 106.12,221.00 106.80,220.50 C107.48,220.00 108.32,219.65 109.10,219.60 C109.88,219.55 110.75,219.85 111.50,220.20 C112.25,220.55 112.90,221.02 113.60,221.70 C114.30,222.38 115.00,223.32 115.70,224.30 C116.40,225.28 117.10,226.93 117.80,227.60 C118.50,228.27 119.15,228.33 119.90,228.30 C120.65,228.27 121.55,227.78 122.30,227.40 C123.05,227.02 123.65,226.48 124.40,226.00 C125.15,225.52 125.82,224.93 126.80,224.50 C127.78,224.07 129.22,223.45 130.30,223.40 C131.38,223.35 132.40,223.85 133.30,224.20 C134.20,224.55 134.90,224.98 135.70,225.50 C136.50,226.02 137.52,226.85 138.10,227.30 C138.68,227.75 139.02,228.05 139.20,228.20 L139.20,228.5 L101.40,228.5 Z" fill="#eeeeee" stroke="none"/>
<path d="M101.40,228.20 C101.70,227.65 102.60,225.83 103.20,224.90 C103.80,223.97 104.40,223.33 105.00,222.60 C105.60,221.87 106.12,221.00 106.80,220.50 C107.48,220.00 108.32,219.65 109.10,219.60 C109.88,219.55 110.75,219.85 111.50,220.20 C112.25,220.55 112.90,221.02 113.60,221.70 C114.30,222.38 115.00,223.32 115.70,224.30 C116.40,225.28 117.10,226.93 117.80,227.60 C118.50,228.27 119.15,228.33 119.90,228.30 C120.65,228.27 121.55,227.78 122.30,227.40 C123.05,227.02 123.65,226.48 124.40,226.00 C125.15,225.52 125.82,224.93 126.80,224.50 C127.78,224.07 129.22,223.45 130.30,223.40 C131.38,223.35 132.40,223.85 133.30,224.20 C134.20,224.55 134.90,224.98 135.70,225.50 C136.50,226.02 137.52,226.85 138.10,227.30 C138.68,227.75 139.02,228.05 139.20,228.20" fill="none" stroke="#6a6af6" stroke-width="1.15" stroke-linejoin="round"/>
<path d="M173.80,228.20 C173.85,228.12 173.72,228.28 174.10,227.70 C174.48,227.12 175.37,225.72 176.10,224.70 C176.83,223.68 177.82,222.37 178.50,221.60 C179.18,220.83 179.58,220.47 180.20,220.10 C180.82,219.73 181.52,219.43 182.20,219.40 C182.88,219.37 183.62,219.53 184.30,219.90 C184.98,220.27 185.63,220.92 186.30,221.60 C186.97,222.28 187.68,223.35 188.30,224.00 C188.92,224.65 189.43,225.45 190.00,225.50 C190.57,225.55 191.07,224.88 191.70,224.30 C192.33,223.72 193.07,222.90 193.80,222.00 C194.53,221.10 195.43,219.70 196.10,218.90 C196.77,218.10 197.20,217.60 197.80,217.20 C198.40,216.80 199.05,216.70 199.70,216.50 C200.35,216.30 201.08,215.97 201.70,216.00 C202.32,216.03 202.77,216.30 203.40,216.70 C204.03,217.10 204.82,218.37 205.50,218.40 C206.18,218.43 206.83,217.38 207.50,216.90 C208.17,216.42 208.82,215.62 209.50,215.50 C210.18,215.38 210.92,215.93 211.60,216.20 C212.28,216.47 212.92,216.72 213.60,217.10 C214.28,217.48 215.08,218.53 215.70,218.50 C216.32,218.47 216.80,217.43 217.30,216.90 C217.80,216.37 218.13,215.60 218.70,215.30 C219.27,215.00 220.13,215.47 220.70,215.10 C221.27,214.73 221.63,214.13 222.10,213.10 C222.57,212.07 222.93,210.07 223.50,208.90 C224.07,207.73 224.72,207.08 225.50,206.10 C226.28,205.12 227.43,203.27 228.20,203.00 C228.97,202.73 229.50,203.97 230.10,204.50 C230.70,205.03 231.13,206.17 231.80,206.20 C232.47,206.23 233.32,204.68 234.10,204.70 C234.88,204.72 235.82,206.33 236.50,206.30 C237.18,206.27 237.63,205.07 238.20,204.50 C238.77,203.93 239.27,203.10 239.90,202.90 C240.53,202.70 241.32,203.30 242.00,203.30 C242.68,203.30 243.38,202.78 244.00,202.90 C244.62,203.02 245.20,203.45 245.70,204.00 C246.20,204.55 246.55,205.27 247.00,206.20 C247.45,207.13 247.93,208.87 248.40,209.60 C248.87,210.33 249.28,209.87 249.80,210.60 C250.32,211.33 251.00,212.82 251.50,214.00 C252.00,215.18 252.30,216.98 252.80,217.70 C253.30,218.42 253.85,218.18 254.50,218.30 C255.15,218.42 256.05,218.83 256.70,218.40 C257.35,217.97 257.78,216.83 258.40,215.70 C259.02,214.57 259.72,212.68 260.40,211.60 C261.08,210.52 261.70,210.22 262.50,209.20 C263.30,208.18 264.47,205.95 265.20,205.50 C265.93,205.05 266.38,206.17 266.90,206.50 C267.42,206.83 267.78,207.43 268.30,207.50 C268.82,207.57 269.43,206.72 270.00,206.90 C270.57,207.08 271.08,207.78 271.70,208.60 C272.32,209.42 273.03,211.13 273.70,211.80 C274.37,212.47 275.13,212.32 275.70,212.60 C276.27,212.88 276.65,213.18 277.10,213.50 C277.55,213.82 277.78,214.45 278.40,214.50 C279.02,214.55 280.12,213.85 280.80,213.80 C281.48,213.75 281.97,214.23 282.50,214.20 C283.03,214.17 283.57,214.08 284.00,213.60 C284.43,213.12 284.58,212.02 285.10,211.30 C285.62,210.58 286.48,209.92 287.10,209.30 C287.72,208.68 288.30,208.28 288.80,207.60 C289.30,206.92 289.65,205.88 290.10,205.20 C290.55,204.52 290.93,203.75 291.50,203.50 C292.07,203.25 292.82,203.70 293.50,203.70 C294.18,203.70 294.97,203.47 295.60,203.50 C296.23,203.53 296.73,203.45 297.30,203.90 C297.87,204.35 298.43,205.67 299.00,206.20 C299.57,206.73 300.13,206.75 300.70,207.10 C301.27,207.45 301.83,207.70 302.40,208.30 C302.97,208.90 303.53,210.07 304.10,210.70 C304.67,211.33 305.23,211.77 305.80,212.10 C306.37,212.43 306.93,212.48 307.50,212.70 C308.07,212.92 308.70,213.63 309.20,213.40 C309.70,213.17 310.03,212.23 310.50,211.30 C310.97,210.37 311.57,208.80 312.00,207.80 C312.43,206.80 312.58,206.17 313.10,205.30 C313.62,204.43 314.55,203.68 315.10,202.60 C315.65,201.52 315.83,199.78 316.40,198.80 C316.97,197.82 317.82,196.92 318.50,196.70 C319.18,196.48 319.88,197.03 320.50,197.50 C321.12,197.97 321.68,198.65 322.20,199.50 C322.72,200.35 323.20,201.47 323.60,202.60 C324.00,203.73 324.15,205.18 324.60,206.30 C325.05,207.42 325.73,208.93 326.30,209.30 C326.87,209.67 327.43,208.42 328.00,208.50 C328.57,208.58 329.08,210.28 329.70,209.80 C330.32,209.32 331.08,206.80 331.70,205.60 C332.32,204.40 332.83,203.45 333.40,202.60 C333.97,201.75 334.53,201.35 335.10,200.50 C335.67,199.65 336.28,198.22 336.80,197.50 C337.32,196.78 337.67,196.07 338.20,196.20 C338.73,196.33 339.35,197.63 340.00,198.30 C340.65,198.97 341.47,199.60 342.10,200.20 C342.73,200.80 343.22,201.20 343.80,201.90 C344.38,202.60 345.03,204.35 345.60,204.40 C346.17,204.45 346.65,203.02 347.20,202.20 C347.75,201.38 348.40,200.07 348.90,199.50 C349.40,198.93 349.70,198.75 350.20,198.80 C350.70,198.85 351.33,199.68 351.90,199.80 C352.47,199.92 352.97,199.12 353.60,199.50 C354.23,199.88 355.08,201.93 355.70,202.10 C356.32,202.27 356.75,201.05 357.30,200.50 C357.85,199.95 358.43,198.85 359.00,198.80 C359.57,198.75 360.15,199.57 360.70,200.20 C361.25,200.83 361.78,202.60 362.30,202.60 C362.82,202.60 363.32,200.72 363.80,200.20 C364.28,199.68 364.75,199.67 365.20,199.50 C365.65,199.33 366.10,199.43 366.50,199.20 C366.90,198.97 367.13,198.43 367.60,198.10 C368.07,197.77 368.75,196.85 369.30,197.20 C369.85,197.55 370.37,198.95 370.90,200.20 C371.43,201.45 371.88,203.55 372.50,204.70 C373.12,205.85 373.92,206.15 374.60,207.10 C375.28,208.05 375.93,209.58 376.60,210.40 C377.27,211.22 377.92,211.40 378.60,212.00 C379.28,212.60 380.02,213.12 380.70,214.00 C381.38,214.88 382.03,217.08 382.70,217.30 C383.37,217.52 383.95,216.18 384.70,215.30 C385.45,214.42 386.38,212.93 387.20,212.00 C388.02,211.07 388.78,209.87 389.60,209.70 C390.42,209.53 391.35,211.02 392.10,211.00 C392.85,210.98 393.52,209.83 394.10,209.60 C394.68,209.37 395.00,209.37 395.60,209.60 C396.20,209.83 397.02,210.57 397.70,211.00 C398.38,211.43 399.03,211.80 399.70,212.20 C400.37,212.60 401.05,212.98 401.70,213.40 C402.35,213.82 402.92,214.65 403.60,214.70 C404.28,214.75 405.08,213.57 405.80,213.70 C406.52,213.83 407.15,214.90 407.90,215.50 C408.65,216.10 409.57,216.83 410.30,217.30 C411.03,217.77 411.62,217.68 412.30,218.30 C412.98,218.92 413.72,220.25 414.40,221.00 C415.08,221.75 415.80,222.15 416.40,222.80 C417.00,223.45 417.45,224.30 418.00,224.90 C418.55,225.50 419.07,226.40 419.70,226.40 C420.33,226.40 421.05,225.32 421.80,224.90 C422.55,224.48 423.40,224.15 424.20,223.90 C425.00,223.65 425.80,223.38 426.60,223.40 C427.40,223.42 428.20,223.70 429.00,224.00 C429.80,224.30 430.70,224.75 431.40,225.20 C432.10,225.65 432.67,226.25 433.20,226.70 C433.73,227.15 432.82,227.70 434.60,227.90 C436.38,228.10 442.05,228.20 443.90,227.90 C445.75,227.60 444.95,226.70 445.70,226.10 C446.45,225.50 447.55,224.88 448.40,224.30 C449.25,223.72 450.10,223.13 450.80,222.60 C451.50,222.07 451.90,221.48 452.60,221.10 C453.30,220.72 454.25,220.35 455.00,220.30 C455.75,220.25 456.42,220.47 457.10,220.80 C457.78,221.13 458.37,221.67 459.10,222.30 C459.83,222.93 460.70,223.87 461.50,224.60 C462.30,225.33 463.25,226.15 463.90,226.70 C464.55,227.25 463.50,227.70 465.40,227.90 C467.30,228.10 473.33,228.25 475.30,227.90 C477.27,227.55 476.48,226.40 477.20,225.80 C477.92,225.20 478.80,224.65 479.60,224.30 C480.40,223.95 481.32,223.87 482.00,223.70 C482.68,223.53 483.02,223.25 483.70,223.30 C484.38,223.35 485.30,223.75 486.10,224.00 C486.90,224.25 487.70,224.40 488.50,224.80 C489.30,225.20 490.20,225.88 490.90,226.40 C491.60,226.92 492.10,227.58 492.70,227.90 C493.30,228.22 494.20,228.23 494.50,228.30 L494.50,228.5 L173.80,228.5 Z" fill="#eeeeee" stroke="none"/>
<path d="M173.80,228.20 C173.85,228.12 173.72,228.28 174.10,227.70 C174.48,227.12 175.37,225.72 176.10,224.70 C176.83,223.68 177.82,222.37 178.50,221.60 C179.18,220.83 179.58,220.47 180.20,220.10 C180.82,219.73 181.52,219.43 182.20,219.40 C182.88,219.37 183.62,219.53 184.30,219.90 C184.98,220.27 185.63,220.92 186.30,221.60 C186.97,222.28 187.68,223.35 188.30,224.00 C188.92,224.65 189.43,225.45 190.00,225.50 C190.57,225.55 191.07,224.88 191.70,224.30 C192.33,223.72 193.07,222.90 193.80,222.00 C194.53,221.10 195.43,219.70 196.10,218.90 C196.77,218.10 197.20,217.60 197.80,217.20 C198.40,216.80 199.05,216.70 199.70,216.50 C200.35,216.30 201.08,215.97 201.70,216.00 C202.32,216.03 202.77,216.30 203.40,216.70 C204.03,217.10 204.82,218.37 205.50,218.40 C206.18,218.43 206.83,217.38 207.50,216.90 C208.17,216.42 208.82,215.62 209.50,215.50 C210.18,215.38 210.92,215.93 211.60,216.20 C212.28,216.47 212.92,216.72 213.60,217.10 C214.28,217.48 215.08,218.53 215.70,218.50 C216.32,218.47 216.80,217.43 217.30,216.90 C217.80,216.37 218.13,215.60 218.70,215.30 C219.27,215.00 220.13,215.47 220.70,215.10 C221.27,214.73 221.63,214.13 222.10,213.10 C222.57,212.07 222.93,210.07 223.50,208.90 C224.07,207.73 224.72,207.08 225.50,206.10 C226.28,205.12 227.43,203.27 228.20,203.00 C228.97,202.73 229.50,203.97 230.10,204.50 C230.70,205.03 231.13,206.17 231.80,206.20 C232.47,206.23 233.32,204.68 234.10,204.70 C234.88,204.72 235.82,206.33 236.50,206.30 C237.18,206.27 237.63,205.07 238.20,204.50 C238.77,203.93 239.27,203.10 239.90,202.90 C240.53,202.70 241.32,203.30 242.00,203.30 C242.68,203.30 243.38,202.78 244.00,202.90 C244.62,203.02 245.20,203.45 245.70,204.00 C246.20,204.55 246.55,205.27 247.00,206.20 C247.45,207.13 247.93,208.87 248.40,209.60 C248.87,210.33 249.28,209.87 249.80,210.60 C250.32,211.33 251.00,212.82 251.50,214.00 C252.00,215.18 252.30,216.98 252.80,217.70 C253.30,218.42 253.85,218.18 254.50,218.30 C255.15,218.42 256.05,218.83 256.70,218.40 C257.35,217.97 257.78,216.83 258.40,215.70 C259.02,214.57 259.72,212.68 260.40,211.60 C261.08,210.52 261.70,210.22 262.50,209.20 C263.30,208.18 264.47,205.95 265.20,205.50 C265.93,205.05 266.38,206.17 266.90,206.50 C267.42,206.83 267.78,207.43 268.30,207.50 C268.82,207.57 269.43,206.72 270.00,206.90 C270.57,207.08 271.08,207.78 271.70,208.60 C272.32,209.42 273.03,211.13 273.70,211.80 C274.37,212.47 275.13,212.32 275.70,212.60 C276.27,212.88 276.65,213.18 277.10,213.50 C277.55,213.82 277.78,214.45 278.40,214.50 C279.02,214.55 280.12,213.85 280.80,213.80 C281.48,213.75 281.97,214.23 282.50,214.20 C283.03,214.17 283.57,214.08 284.00,213.60 C284.43,213.12 284.58,212.02 285.10,211.30 C285.62,210.58 286.48,209.92 287.10,209.30 C287.72,208.68 288.30,208.28 288.80,207.60 C289.30,206.92 289.65,205.88 290.10,205.20 C290.55,204.52 290.93,203.75 291.50,203.50 C292.07,203.25 292.82,203.70 293.50,203.70 C294.18,203.70 294.97,203.47 295.60,203.50 C296.23,203.53 296.73,203.45 297.30,203.90 C297.87,204.35 298.43,205.67 299.00,206.20 C299.57,206.73 300.13,206.75 300.70,207.10 C301.27,207.45 301.83,207.70 302.40,208.30 C302.97,208.90 303.53,210.07 304.10,210.70 C304.67,211.33 305.23,211.77 305.80,212.10 C306.37,212.43 306.93,212.48 307.50,212.70 C308.07,212.92 308.70,213.63 309.20,213.40 C309.70,213.17 310.03,212.23 310.50,211.30 C310.97,210.37 311.57,208.80 312.00,207.80 C312.43,206.80 312.58,206.17 313.10,205.30 C313.62,204.43 314.55,203.68 315.10,202.60 C315.65,201.52 315.83,199.78 316.40,198.80 C316.97,197.82 317.82,196.92 318.50,196.70 C319.18,196.48 319.88,197.03 320.50,197.50 C321.12,197.97 321.68,198.65 322.20,199.50 C322.72,200.35 323.20,201.47 323.60,202.60 C324.00,203.73 324.15,205.18 324.60,206.30 C325.05,207.42 325.73,208.93 326.30,209.30 C326.87,209.67 327.43,208.42 328.00,208.50 C328.57,208.58 329.08,210.28 329.70,209.80 C330.32,209.32 331.08,206.80 331.70,205.60 C332.32,204.40 332.83,203.45 333.40,202.60 C333.97,201.75 334.53,201.35 335.10,200.50 C335.67,199.65 336.28,198.22 336.80,197.50 C337.32,196.78 337.67,196.07 338.20,196.20 C338.73,196.33 339.35,197.63 340.00,198.30 C340.65,198.97 341.47,199.60 342.10,200.20 C342.73,200.80 343.22,201.20 343.80,201.90 C344.38,202.60 345.03,204.35 345.60,204.40 C346.17,204.45 346.65,203.02 347.20,202.20 C347.75,201.38 348.40,200.07 348.90,199.50 C349.40,198.93 349.70,198.75 350.20,198.80 C350.70,198.85 351.33,199.68 351.90,199.80 C352.47,199.92 352.97,199.12 353.60,199.50 C354.23,199.88 355.08,201.93 355.70,202.10 C356.32,202.27 356.75,201.05 357.30,200.50 C357.85,199.95 358.43,198.85 359.00,198.80 C359.57,198.75 360.15,199.57 360.70,200.20 C361.25,200.83 361.78,202.60 362.30,202.60 C362.82,202.60 363.32,200.72 363.80,200.20 C364.28,199.68 364.75,199.67 365.20,199.50 C365.65,199.33 366.10,199.43 366.50,199.20 C366.90,198.97 367.13,198.43 367.60,198.10 C368.07,197.77 368.75,196.85 369.30,197.20 C369.85,197.55 370.37,198.95 370.90,200.20 C371.43,201.45 371.88,203.55 372.50,204.70 C373.12,205.85 373.92,206.15 374.60,207.10 C375.28,208.05 375.93,209.58 376.60,210.40 C377.27,211.22 377.92,211.40 378.60,212.00 C379.28,212.60 380.02,213.12 380.70,214.00 C381.38,214.88 382.03,217.08 382.70,217.30 C383.37,217.52 383.95,216.18 384.70,215.30 C385.45,214.42 386.38,212.93 387.20,212.00 C388.02,211.07 388.78,209.87 389.60,209.70 C390.42,209.53 391.35,211.02 392.10,211.00 C392.85,210.98 393.52,209.83 394.10,209.60 C394.68,209.37 395.00,209.37 395.60,209.60 C396.20,209.83 397.02,210.57 397.70,211.00 C398.38,211.43 399.03,211.80 399.70,212.20 C400.37,212.60 401.05,212.98 401.70,213.40 C402.35,213.82 402.92,214.65 403.60,214.70 C404.28,214.75 405.08,213.57 405.80,213.70 C406.52,213.83 407.15,214.90 407.90,215.50 C408.65,216.10 409.57,216.83 410.30,217.30 C411.03,217.77 411.62,217.68 412.30,218.30 C412.98,218.92 413.72,220.25 414.40,221.00 C415.08,221.75 415.80,222.15 416.40,222.80 C417.00,223.45 417.45,224.30 418.00,224.90 C418.55,225.50 419.07,226.40 419.70,226.40 C420.33,226.40 421.05,225.32 421.80,224.90 C422.55,224.48 423.40,224.15 424.20,223.90 C425.00,223.65 425.80,223.38 426.60,223.40 C427.40,223.42 428.20,223.70 429.00,224.00 C429.80,224.30 430.70,224.75 431.40,225.20 C432.10,225.65 432.67,226.25 433.20,226.70 C433.73,227.15 432.82,227.70 434.60,227.90 C436.38,228.10 442.05,228.20 443.90,227.90 C445.75,227.60 444.95,226.70 445.70,226.10 C446.45,225.50 447.55,224.88 448.40,224.30 C449.25,223.72 450.10,223.13 450.80,222.60 C451.50,222.07 451.90,221.48 452.60,221.10 C453.30,220.72 454.25,220.35 455.00,220.30 C455.75,220.25 456.42,220.47 457.10,220.80 C457.78,221.13 458.37,221.67 459.10,222.30 C459.83,222.93 460.70,223.87 461.50,224.60 C462.30,225.33 463.25,226.15 463.90,226.70 C464.55,227.25 463.50,227.70 465.40,227.90 C467.30,228.10 473.33,228.25 475.30,227.90 C477.27,227.55 476.48,226.40 477.20,225.80 C477.92,225.20 478.80,224.65 479.60,224.30 C480.40,223.95 481.32,223.87 482.00,223.70 C482.68,223.53 483.02,223.25 483.70,223.30 C484.38,223.35 485.30,223.75 486.10,224.00 C486.90,224.25 487.70,224.40 488.50,224.80 C489.30,225.20 490.20,225.88 490.90,226.40 C491.60,226.92 492.10,227.58 492.70,227.90 C493.30,228.22 494.20,228.23 494.50,228.30" fill="none" stroke="#6a6af6" stroke-width="1.15" stroke-linejoin="round"/>
<line x1="68.50" y1="228.5" x2="483.50" y2="228.5" stroke="#6e6e6e" stroke-width="1"/>
<line x1="68.50" y1="228.5" x2="68.50" y2="230.5" stroke="#6e6e6e" stroke-width="1"/>
<text x="68.50" y="237.00" font-size="7.0" text-anchor="middle" fill="#262626" textLength="10.28" lengthAdjust="spacingAndGlyphs" stroke="#262626" stroke-width="0.15">100</text>
<line x1="120.50" y1="228.5" x2="120.50" y2="230.5" stroke="#6e6e6e" stroke-width="1"/>
<text x="120.38" y="237.00" font-size="7.0" text-anchor="middle" fill="#262626" textLength="6.85" lengthAdjust="spacingAndGlyphs" stroke="#262626" stroke-width="0.15">90</text>
<line x1="172.50" y1="228.5" x2="172.50" y2="230.5" stroke="#6e6e6e" stroke-width="1"/>
<text x="172.25" y="237.00" font-size="7.0" text-anchor="middle" fill="#262626" textLength="6.85" lengthAdjust="spacingAndGlyphs" stroke="#262626" stroke-width="0.15">80</text>
<line x1="224.50" y1="228.5" x2="224.50" y2="230.5" stroke="#6e6e6e" stroke-width="1"/>
<text x="224.12" y="237.00" font-size="7.0" text-anchor="middle" fill="#262626" textLength="6.85" lengthAdjust="spacingAndGlyphs" stroke="#262626" stroke-width="0.15">70</text>
<line x1="276.50" y1="228.5" x2="276.50" y2="230.5" stroke="#6e6e6e" stroke-width="1"/>
<text x="276.00" y="237.00" font-size="7.0" text-anchor="middle" fill="#262626" textLength="6.85" lengthAdjust="spacingAndGlyphs" stroke="#262626" stroke-width="0.15">60</text>
<line x1="327.50" y1="228.5" x2="327.50" y2="230.5" stroke="#6e6e6e" stroke-width="1"/>
<text x="327.88" y="237.00" font-size="7.0" text-anchor="middle" fill="#262626" textLength="6.85" lengthAdjust="spacingAndGlyphs" stroke="#262626" stroke-width="0.15">50</text>
<line x1="379.50" y1="228.5" x2="379.50" y2="230.5" stroke="#6e6e6e" stroke-width="1"/>
<text x="379.75" y="237.00" font-size="7.0" text-anchor="middle" fill="#262626" textLength="6.85" lengthAdjust="spacingAndGlyphs" stroke="#262626" stroke-width="0.15">40</text>
<line x1="431.50" y1="228.5" x2="431.50" y2="230.5" stroke="#6e6e6e" stroke-width="1"/>
<text x="431.62" y="237.00" font-size="7.0" text-anchor="middle" fill="#262626" textLength="6.85" lengthAdjust="spacingAndGlyphs" stroke="#262626" stroke-width="0.15">30</text>
<line x1="483.50" y1="228.5" x2="483.50" y2="230.5" stroke="#6e6e6e" stroke-width="1"/>
<text x="483.50" y="237.00" font-size="7.0" text-anchor="middle" fill="#262626" textLength="6.85" lengthAdjust="spacingAndGlyphs" stroke="#262626" stroke-width="0.15">20</text>
<path d="M101.90,306.30 C102.42,305.95 103.73,304.67 105.00,304.20 C106.27,303.73 108.00,303.50 109.50,303.50 C111.00,303.50 112.72,303.73 114.00,304.20 C115.28,304.67 116.67,305.95 117.20,306.30 L117.20,306.5 L101.90,306.5 Z" fill="#eeeeee" stroke="none"/>
<path d="M169.00,306.40 C169.05,306.35 168.88,306.40 169.30,306.10 C169.72,305.80 170.68,305.03 171.50,304.60 C172.32,304.17 173.30,303.72 174.20,303.50 C175.10,303.28 176.00,303.30 176.90,303.30 C177.80,303.30 178.78,303.33 179.60,303.50 C180.42,303.67 181.15,304.00 181.80,304.30 C182.45,304.60 183.00,304.97 183.50,305.30 C184.00,305.63 183.98,306.13 184.80,306.30 C185.62,306.47 187.53,306.52 188.40,306.30 C189.27,306.08 189.28,305.40 190.00,305.00 C190.72,304.60 191.95,304.15 192.70,303.90 C193.45,303.65 193.88,303.62 194.50,303.50 C195.12,303.38 195.58,303.43 196.40,303.20 C197.22,302.97 198.40,302.25 199.40,302.10 C200.40,301.95 201.40,302.15 202.40,302.30 C203.40,302.45 204.52,302.78 205.40,303.00 C206.28,303.22 207.02,303.37 207.70,303.60 C208.38,303.83 208.90,304.42 209.50,304.40 C210.10,304.38 210.60,303.93 211.30,303.50 C212.00,303.07 212.90,302.25 213.70,301.80 C214.50,301.35 215.30,301.15 216.10,300.80 C216.90,300.45 217.75,300.22 218.50,299.70 C219.25,299.18 219.97,298.25 220.60,297.70 C221.23,297.15 221.77,296.70 222.30,296.40 C222.83,296.10 223.25,295.92 223.80,295.90 C224.35,295.88 224.90,296.25 225.60,296.30 C226.30,296.35 227.20,296.35 228.00,296.20 C228.80,296.05 229.65,295.65 230.40,295.40 C231.15,295.15 231.90,294.62 232.50,294.70 C233.10,294.78 233.47,295.45 234.00,295.90 C234.53,296.35 235.12,296.98 235.70,297.40 C236.28,297.82 236.80,298.02 237.50,298.40 C238.20,298.78 239.10,299.15 239.90,299.70 C240.70,300.25 241.50,301.15 242.30,301.70 C243.10,302.25 243.90,302.63 244.70,303.00 C245.50,303.37 246.40,303.80 247.10,303.90 C247.80,304.00 248.33,303.85 248.90,303.60 C249.47,303.35 250.12,302.73 250.50,302.40 C250.88,302.07 250.83,302.23 251.20,301.60 C251.57,300.97 252.15,299.48 252.70,298.60 C253.25,297.72 253.85,296.98 254.50,296.30 C255.15,295.62 255.85,294.83 256.60,294.50 C257.35,294.17 258.20,294.28 259.00,294.30 C259.80,294.32 260.67,294.27 261.40,294.60 C262.13,294.93 262.72,295.80 263.40,296.30 C264.08,296.80 264.85,297.42 265.50,297.60 C266.15,297.78 266.65,297.75 267.30,297.40 C267.95,297.05 268.65,296.13 269.40,295.50 C270.15,294.87 271.05,293.87 271.80,293.60 C272.55,293.33 273.15,293.65 273.90,293.90 C274.65,294.15 275.58,294.65 276.30,295.10 C277.02,295.55 277.72,296.17 278.20,296.60 C278.68,297.03 278.78,297.23 279.20,297.70 C279.62,298.17 280.10,299.07 280.70,299.40 C281.30,299.73 282.15,299.73 282.80,299.70 C283.45,299.67 284.05,299.43 284.60,299.20 C285.15,298.97 285.55,298.30 286.10,298.30 C286.65,298.30 287.25,298.92 287.90,299.20 C288.55,299.48 289.27,299.82 290.00,300.00 C290.73,300.18 291.52,300.23 292.30,300.30 C293.08,300.37 294.00,300.43 294.70,300.40 C295.40,300.37 295.95,300.68 296.50,300.10 C297.05,299.52 297.45,298.13 298.00,296.90 C298.55,295.67 299.20,293.90 299.80,292.70 C300.40,291.50 300.95,290.55 301.60,289.70 C302.25,288.85 303.00,288.35 303.70,287.60 C304.40,286.85 305.10,285.72 305.80,285.20 C306.50,284.68 307.20,284.62 307.90,284.50 C308.60,284.38 309.35,284.23 310.00,284.50 C310.65,284.77 311.22,285.40 311.80,286.10 C312.38,286.80 312.92,288.12 313.50,288.70 C314.08,289.28 314.58,289.37 315.30,289.60 C316.02,289.83 317.10,290.28 317.80,290.10 C318.50,289.92 318.87,289.05 319.50,288.50 C320.13,287.95 320.95,287.47 321.60,286.80 C322.25,286.13 322.87,285.53 323.40,284.50 C323.93,283.47 324.27,281.83 324.80,280.60 C325.33,279.37 326.02,277.98 326.60,277.10 C327.18,276.22 327.65,275.52 328.30,275.30 C328.95,275.08 329.83,275.43 330.50,275.80 C331.17,276.17 331.75,276.93 332.30,277.50 C332.85,278.07 333.32,278.33 333.80,279.20 C334.28,280.07 334.62,281.82 335.20,282.70 C335.78,283.58 336.60,283.88 337.30,284.50 C338.00,285.12 338.63,285.82 339.40,286.40 C340.17,286.98 341.13,287.38 341.90,288.00 C342.67,288.62 343.30,289.37 344.00,290.10 C344.70,290.83 345.33,292.02 346.10,292.40 C346.87,292.78 347.90,292.40 348.60,292.40 C349.30,292.40 349.72,292.28 350.30,292.40 C350.88,292.52 351.57,293.48 352.10,293.10 C352.63,292.72 352.97,291.30 353.50,290.10 C354.03,288.90 354.70,287.25 355.30,285.90 C355.90,284.55 356.40,283.18 357.10,282.00 C357.80,280.82 358.67,279.05 359.50,278.80 C360.33,278.55 361.37,280.58 362.10,280.50 C362.83,280.42 363.30,278.97 363.90,278.30 C364.50,277.63 365.05,276.58 365.70,276.50 C366.35,276.42 367.02,277.43 367.80,277.80 C368.58,278.17 369.53,278.27 370.40,278.70 C371.27,279.13 372.27,279.68 373.00,280.40 C373.73,281.12 374.22,281.90 374.80,283.00 C375.38,284.10 375.92,285.47 376.50,287.00 C377.08,288.53 377.72,290.75 378.30,292.20 C378.88,293.65 379.28,294.83 380.00,295.70 C380.72,296.57 381.73,296.85 382.60,297.40 C383.47,297.95 384.40,298.67 385.20,299.00 C386.00,299.33 386.58,299.52 387.40,299.40 C388.22,299.28 389.35,298.40 390.10,298.30 C390.85,298.20 391.30,298.50 391.90,298.80 C392.50,299.10 393.15,299.83 393.70,300.10 C394.25,300.37 394.65,300.57 395.20,300.40 C395.75,300.23 396.35,299.47 397.00,299.10 C397.65,298.73 398.42,298.62 399.10,298.20 C399.78,297.78 400.37,296.92 401.10,296.60 C401.83,296.28 402.80,296.50 403.50,296.30 C404.20,296.10 404.70,295.63 405.30,295.40 C405.90,295.17 406.50,295.08 407.10,294.90 C407.70,294.72 408.30,294.27 408.90,294.30 C409.50,294.33 410.10,294.65 410.70,295.10 C411.30,295.55 411.90,296.42 412.50,297.00 C413.10,297.58 413.70,298.18 414.30,298.60 C414.90,299.02 415.42,299.32 416.10,299.50 C416.78,299.68 417.62,299.72 418.40,299.70 C419.18,299.68 420.00,299.30 420.80,299.40 C421.60,299.50 422.40,300.00 423.20,300.30 C424.00,300.60 424.85,300.95 425.60,301.20 C426.35,301.45 427.07,301.60 427.70,301.80 C428.33,302.00 428.77,302.58 429.40,302.40 C430.03,302.22 430.85,301.48 431.50,300.70 C432.15,299.92 432.70,298.68 433.30,297.70 C433.90,296.72 434.50,295.78 435.10,294.80 C435.70,293.82 436.30,292.55 436.90,291.80 C437.50,291.05 438.00,290.55 438.70,290.30 C439.40,290.05 440.40,290.15 441.10,290.30 C441.80,290.45 442.38,290.68 442.90,291.20 C443.42,291.72 443.82,292.77 444.20,293.40 C444.58,294.03 444.78,294.33 445.20,295.00 C445.62,295.67 446.15,296.67 446.70,297.40 C447.25,298.13 447.95,298.92 448.50,299.40 C449.05,299.88 449.45,300.22 450.00,300.30 C450.55,300.38 451.20,300.07 451.80,299.90 C452.40,299.73 453.05,299.35 453.60,299.30 C454.15,299.25 454.55,299.33 455.10,299.60 C455.65,299.87 456.27,300.50 456.90,300.90 C457.53,301.30 458.27,301.60 458.90,302.00 C459.53,302.40 460.10,302.88 460.70,303.30 C461.30,303.72 461.85,304.15 462.50,304.50 C463.15,304.85 464.05,305.13 464.60,305.40 C465.15,305.67 463.95,305.98 465.80,306.10 C467.65,306.22 473.63,306.37 475.70,306.10 C477.77,305.83 477.33,304.93 478.20,304.50 C479.07,304.07 480.00,303.70 480.90,303.50 C481.80,303.30 482.68,303.27 483.60,303.30 C484.52,303.33 485.48,303.48 486.40,303.70 C487.32,303.92 488.25,304.22 489.10,304.60 C489.95,304.98 491.05,305.72 491.50,306.00 C491.95,306.28 491.75,306.25 491.80,306.30 L491.80,306.5 L169.00,306.5 Z" fill="#eeeeee" stroke="none"/>
<text x="224.0" y="303.9" font-size="7" font-style="italic" text-anchor="end" fill="#ff0000" stroke="none">160</text>
<path d="M101.90,306.30 C102.42,305.95 103.73,304.67 105.00,304.20 C106.27,303.73 108.00,303.50 109.50,303.50 C111.00,303.50 112.72,303.73 114.00,304.20 C115.28,304.67 116.67,305.95 117.20,306.30" fill="none" stroke="#6a6af6" stroke-width="1.15" stroke-linejoin="round"/>
<path d="M169.00,306.40 C169.05,306.35 168.88,306.40 169.30,306.10 C169.72,305.80 170.68,305.03 171.50,304.60 C172.32,304.17 173.30,303.72 174.20,303.50 C175.10,303.28 176.00,303.30 176.90,303.30 C177.80,303.30 178.78,303.33 179.60,303.50 C180.42,303.67 181.15,304.00 181.80,304.30 C182.45,304.60 183.00,304.97 183.50,305.30 C184.00,305.63 183.98,306.13 184.80,306.30 C185.62,306.47 187.53,306.52 188.40,306.30 C189.27,306.08 189.28,305.40 190.00,305.00 C190.72,304.60 191.95,304.15 192.70,303.90 C193.45,303.65 193.88,303.62 194.50,303.50 C195.12,303.38 195.58,303.43 196.40,303.20 C197.22,302.97 198.40,302.25 199.40,302.10 C200.40,301.95 201.40,302.15 202.40,302.30 C203.40,302.45 204.52,302.78 205.40,303.00 C206.28,303.22 207.02,303.37 207.70,303.60 C208.38,303.83 208.90,304.42 209.50,304.40 C210.10,304.38 210.60,303.93 211.30,303.50 C212.00,303.07 212.90,302.25 213.70,301.80 C214.50,301.35 215.30,301.15 216.10,300.80 C216.90,300.45 217.75,300.22 218.50,299.70 C219.25,299.18 219.97,298.25 220.60,297.70 C221.23,297.15 221.77,296.70 222.30,296.40 C222.83,296.10 223.25,295.92 223.80,295.90 C224.35,295.88 224.90,296.25 225.60,296.30 C226.30,296.35 227.20,296.35 228.00,296.20 C228.80,296.05 229.65,295.65 230.40,295.40 C231.15,295.15 231.90,294.62 232.50,294.70 C233.10,294.78 233.47,295.45 234.00,295.90 C234.53,296.35 235.12,296.98 235.70,297.40 C236.28,297.82 236.80,298.02 237.50,298.40 C238.20,298.78 239.10,299.15 239.90,299.70 C240.70,300.25 241.50,301.15 242.30,301.70 C243.10,302.25 243.90,302.63 244.70,303.00 C245.50,303.37 246.40,303.80 247.10,303.90 C247.80,304.00 248.33,303.85 248.90,303.60 C249.47,303.35 250.12,302.73 250.50,302.40 C250.88,302.07 250.83,302.23 251.20,301.60 C251.57,300.97 252.15,299.48 252.70,298.60 C253.25,297.72 253.85,296.98 254.50,296.30 C255.15,295.62 255.85,294.83 256.60,294.50 C257.35,294.17 258.20,294.28 259.00,294.30 C259.80,294.32 260.67,294.27 261.40,294.60 C262.13,294.93 262.72,295.80 263.40,296.30 C264.08,296.80 264.85,297.42 265.50,297.60 C266.15,297.78 266.65,297.75 267.30,297.40 C267.95,297.05 268.65,296.13 269.40,295.50 C270.15,294.87 271.05,293.87 271.80,293.60 C272.55,293.33 273.15,293.65 273.90,293.90 C274.65,294.15 275.58,294.65 276.30,295.10 C277.02,295.55 277.72,296.17 278.20,296.60 C278.68,297.03 278.78,297.23 279.20,297.70 C279.62,298.17 280.10,299.07 280.70,299.40 C281.30,299.73 282.15,299.73 282.80,299.70 C283.45,299.67 284.05,299.43 284.60,299.20 C285.15,298.97 285.55,298.30 286.10,298.30 C286.65,298.30 287.25,298.92 287.90,299.20 C288.55,299.48 289.27,299.82 290.00,300.00 C290.73,300.18 291.52,300.23 292.30,300.30 C293.08,300.37 294.00,300.43 294.70,300.40 C295.40,300.37 295.95,300.68 296.50,300.10 C297.05,299.52 297.45,298.13 298.00,296.90 C298.55,295.67 299.20,293.90 299.80,292.70 C300.40,291.50 300.95,290.55 301.60,289.70 C302.25,288.85 303.00,288.35 303.70,287.60 C304.40,286.85 305.10,285.72 305.80,285.20 C306.50,284.68 307.20,284.62 307.90,284.50 C308.60,284.38 309.35,284.23 310.00,284.50 C310.65,284.77 311.22,285.40 311.80,286.10 C312.38,286.80 312.92,288.12 313.50,288.70 C314.08,289.28 314.58,289.37 315.30,289.60 C316.02,289.83 317.10,290.28 317.80,290.10 C318.50,289.92 318.87,289.05 319.50,288.50 C320.13,287.95 320.95,287.47 321.60,286.80 C322.25,286.13 322.87,285.53 323.40,284.50 C323.93,283.47 324.27,281.83 324.80,280.60 C325.33,279.37 326.02,277.98 326.60,277.10 C327.18,276.22 327.65,275.52 328.30,275.30 C328.95,275.08 329.83,275.43 330.50,275.80 C331.17,276.17 331.75,276.93 332.30,277.50 C332.85,278.07 333.32,278.33 333.80,279.20 C334.28,280.07 334.62,281.82 335.20,282.70 C335.78,283.58 336.60,283.88 337.30,284.50 C338.00,285.12 338.63,285.82 339.40,286.40 C340.17,286.98 341.13,287.38 341.90,288.00 C342.67,288.62 343.30,289.37 344.00,290.10 C344.70,290.83 345.33,292.02 346.10,292.40 C346.87,292.78 347.90,292.40 348.60,292.40 C349.30,292.40 349.72,292.28 350.30,292.40 C350.88,292.52 351.57,293.48 352.10,293.10 C352.63,292.72 352.97,291.30 353.50,290.10 C354.03,288.90 354.70,287.25 355.30,285.90 C355.90,284.55 356.40,283.18 357.10,282.00 C357.80,280.82 358.67,279.05 359.50,278.80 C360.33,278.55 361.37,280.58 362.10,280.50 C362.83,280.42 363.30,278.97 363.90,278.30 C364.50,277.63 365.05,276.58 365.70,276.50 C366.35,276.42 367.02,277.43 367.80,277.80 C368.58,278.17 369.53,278.27 370.40,278.70 C371.27,279.13 372.27,279.68 373.00,280.40 C373.73,281.12 374.22,281.90 374.80,283.00 C375.38,284.10 375.92,285.47 376.50,287.00 C377.08,288.53 377.72,290.75 378.30,292.20 C378.88,293.65 379.28,294.83 380.00,295.70 C380.72,296.57 381.73,296.85 382.60,297.40 C383.47,297.95 384.40,298.67 385.20,299.00 C386.00,299.33 386.58,299.52 387.40,299.40 C388.22,299.28 389.35,298.40 390.10,298.30 C390.85,298.20 391.30,298.50 391.90,298.80 C392.50,299.10 393.15,299.83 393.70,300.10 C394.25,300.37 394.65,300.57 395.20,300.40 C395.75,300.23 396.35,299.47 397.00,299.10 C397.65,298.73 398.42,298.62 399.10,298.20 C399.78,297.78 400.37,296.92 401.10,296.60 C401.83,296.28 402.80,296.50 403.50,296.30 C404.20,296.10 404.70,295.63 405.30,295.40 C405.90,295.17 406.50,295.08 407.10,294.90 C407.70,294.72 408.30,294.27 408.90,294.30 C409.50,294.33 410.10,294.65 410.70,295.10 C411.30,295.55 411.90,296.42 412.50,297.00 C413.10,297.58 413.70,298.18 414.30,298.60 C414.90,299.02 415.42,299.32 416.10,299.50 C416.78,299.68 417.62,299.72 418.40,299.70 C419.18,299.68 420.00,299.30 420.80,299.40 C421.60,299.50 422.40,300.00 423.20,300.30 C424.00,300.60 424.85,300.95 425.60,301.20 C426.35,301.45 427.07,301.60 427.70,301.80 C428.33,302.00 428.77,302.58 429.40,302.40 C430.03,302.22 430.85,301.48 431.50,300.70 C432.15,299.92 432.70,298.68 433.30,297.70 C433.90,296.72 434.50,295.78 435.10,294.80 C435.70,293.82 436.30,292.55 436.90,291.80 C437.50,291.05 438.00,290.55 438.70,290.30 C439.40,290.05 440.40,290.15 441.10,290.30 C441.80,290.45 442.38,290.68 442.90,291.20 C443.42,291.72 443.82,292.77 444.20,293.40 C444.58,294.03 444.78,294.33 445.20,295.00 C445.62,295.67 446.15,296.67 446.70,297.40 C447.25,298.13 447.95,298.92 448.50,299.40 C449.05,299.88 449.45,300.22 450.00,300.30 C450.55,300.38 451.20,300.07 451.80,299.90 C452.40,299.73 453.05,299.35 453.60,299.30 C454.15,299.25 454.55,299.33 455.10,299.60 C455.65,299.87 456.27,300.50 456.90,300.90 C457.53,301.30 458.27,301.60 458.90,302.00 C459.53,302.40 460.10,302.88 460.70,303.30 C461.30,303.72 461.85,304.15 462.50,304.50 C463.15,304.85 464.05,305.13 464.60,305.40 C465.15,305.67 463.95,305.98 465.80,306.10 C467.65,306.22 473.63,306.37 475.70,306.10 C477.77,305.83 477.33,304.93 478.20,304.50 C479.07,304.07 480.00,303.70 480.90,303.50 C481.80,303.30 482.68,303.27 483.60,303.30 C484.52,303.33 485.48,303.48 486.40,303.70 C487.32,303.92 488.25,304.22 489.10,304.60 C489.95,304.98 491.05,305.72 491.50,306.00 C491.95,306.28 491.75,306.25 491.80,306.30" fill="none" stroke="#6a6af6" stroke-width="1.15" stroke-linejoin="round"/>
<line x1="80.30" y1="306.5" x2="537.50" y2="306.5" stroke="#6e6e6e" stroke-width="1"/>
<line x1="80.50" y1="306.5" x2="80.50" y2="308.5" stroke="#6e6e6e" stroke-width="1"/>
<text x="80.30" y="315.00" font-size="7.0" text-anchor="middle" fill="#262626" textLength="10.28" lengthAdjust="spacingAndGlyphs" stroke="#262626" stroke-width="0.15">100</text>
<line x1="126.50" y1="306.5" x2="126.50" y2="308.5" stroke="#6e6e6e" stroke-width="1"/>
<text x="126.02" y="315.00" font-size="7.0" text-anchor="middle" fill="#262626" textLength="10.28" lengthAdjust="spacingAndGlyphs" stroke="#262626" stroke-width="0.15">120</text>
<line x1="171.50" y1="306.5" x2="171.50" y2="308.5" stroke="#6e6e6e" stroke-width="1"/>
<text x="171.74" y="315.00" font-size="7.0" text-anchor="middle" fill="#262626" textLength="10.28" lengthAdjust="spacingAndGlyphs" stroke="#262626" stroke-width="0.15">140</text>
<line x1="217.50" y1="306.5" x2="217.50" y2="308.5" stroke="#6e6e6e" stroke-width="1"/>
<text x="217.46" y="315.00" font-size="7.0" text-anchor="middle" fill="#262626" textLength="10.28" lengthAdjust="spacingAndGlyphs" stroke="#262626" stroke-width="0.15">160</text>
<line x1="263.50" y1="306.5" x2="263.50" y2="308.5" stroke="#6e6e6e" stroke-width="1"/>
<text x="263.18" y="315.00" font-size="7.0" text-anchor="middle" fill="#262626" textLength="10.28" lengthAdjust="spacingAndGlyphs" stroke="#262626" stroke-width="0.15">180</text>
<line x1="308.50" y1="306.5" x2="308.50" y2="308.5" stroke="#6e6e6e" stroke-width="1"/>
<text x="308.90" y="315.00" font-size="7.0" text-anchor="middle" fill="#262626" textLength="10.28" lengthAdjust="spacingAndGlyphs" stroke="#262626" stroke-width="0.15">200</text>
<line x1="354.50" y1="306.5" x2="354.50" y2="308.5" stroke="#6e6e6e" stroke-width="1"/>
<text x="354.62" y="315.00" font-size="7.0" text-anchor="middle" fill="#262626" textLength="10.28" lengthAdjust="spacingAndGlyphs" stroke="#262626" stroke-width="0.15">220</text>
<line x1="400.50" y1="306.5" x2="400.50" y2="308.5" stroke="#6e6e6e" stroke-width="1"/>
<text x="400.34" y="315.00" font-size="7.0" text-anchor="middle" fill="#262626" textLength="10.28" lengthAdjust="spacingAndGlyphs" stroke="#262626" stroke-width="0.15">240</text>
<line x1="446.50" y1="306.5" x2="446.50" y2="308.5" stroke="#6e6e6e" stroke-width="1"/>
<text x="446.06" y="315.00" font-size="7.0" text-anchor="middle" fill="#262626" textLength="10.28" lengthAdjust="spacingAndGlyphs" stroke="#262626" stroke-width="0.15">260</text>
<line x1="491.50" y1="306.5" x2="491.50" y2="308.5" stroke="#6e6e6e" stroke-width="1"/>
<text x="491.78" y="315.00" font-size="7.0" text-anchor="middle" fill="#262626" textLength="10.28" lengthAdjust="spacingAndGlyphs" stroke="#262626" stroke-width="0.15">280</text>
<line x1="537.50" y1="306.5" x2="537.50" y2="308.5" stroke="#6e6e6e" stroke-width="1"/>
<text x="537.50" y="315.00" font-size="7.0" text-anchor="middle" fill="#262626" textLength="10.28" lengthAdjust="spacingAndGlyphs" stroke="#262626" stroke-width="0.15">300</text>
<line x1="91.30" y1="348.5" x2="517.81" y2="348.5" stroke="#6e6e6e" stroke-width="1"/>
<line x1="91.50" y1="348.5" x2="91.50" y2="350.5" stroke="#6e6e6e" stroke-width="1"/>
<text x="91.30" y="357.00" font-size="7.0" text-anchor="middle" fill="#262626" textLength="15.41" lengthAdjust="spacingAndGlyphs" stroke="#262626" stroke-width="0.15">0.005</text>
<line x1="154.50" y1="348.5" x2="154.50" y2="350.5" stroke="#6e6e6e" stroke-width="1"/>
<text x="154.43" y="357.00" font-size="7.0" text-anchor="middle" fill="#262626" textLength="15.41" lengthAdjust="spacingAndGlyphs" stroke="#262626" stroke-width="0.15">0.015</text>
<line x1="194.50" y1="348.5" x2="194.50" y2="350.5" stroke="#6e6e6e" stroke-width="1"/>
<text x="194.77" y="357.00" font-size="7.0" text-anchor="middle" fill="#262626" textLength="11.99" lengthAdjust="spacingAndGlyphs" stroke="#262626" stroke-width="0.15">0.03</text>
<line x1="236.50" y1="348.5" x2="236.50" y2="350.5" stroke="#6e6e6e" stroke-width="1"/>
<text x="236.03" y="357.00" font-size="7.0" text-anchor="middle" fill="#262626" textLength="11.99" lengthAdjust="spacingAndGlyphs" stroke="#262626" stroke-width="0.15">0.06</text>
<line x1="293.50" y1="348.5" x2="293.50" y2="350.5" stroke="#6e6e6e" stroke-width="1"/>
<text x="293.93" y="357.00" font-size="7.0" text-anchor="middle" fill="#262626" textLength="11.99" lengthAdjust="spacingAndGlyphs" stroke="#262626" stroke-width="0.15">0.15</text>
<line x1="344.50" y1="348.5" x2="344.50" y2="350.5" stroke="#6e6e6e" stroke-width="1"/>
<text x="344.45" y="357.00" font-size="7.0" text-anchor="middle" fill="#262626" textLength="8.56" lengthAdjust="spacingAndGlyphs" stroke="#262626" stroke-width="0.15">0.3</text>
<line x1="392.50" y1="348.5" x2="392.50" y2="350.5" stroke="#6e6e6e" stroke-width="1"/>
<text x="392.70" y="357.00" font-size="7.0" text-anchor="middle" fill="#262626" textLength="8.56" lengthAdjust="spacingAndGlyphs" stroke="#262626" stroke-width="0.15">0.5</text>
<line x1="440.50" y1="348.5" x2="440.50" y2="350.5" stroke="#6e6e6e" stroke-width="1"/>
<text x="440.95" y="357.00" font-size="7.0" text-anchor="middle" fill="#262626" textLength="8.56" lengthAdjust="spacingAndGlyphs" stroke="#262626" stroke-width="0.15">0.7</text>
<line x1="517.50" y1="348.5" x2="517.50" y2="350.5" stroke="#6e6e6e" stroke-width="1"/>
<text x="517.81" y="357.00" font-size="7.0" text-anchor="middle" fill="#262626" textLength="8.56" lengthAdjust="spacingAndGlyphs" stroke="#262626" stroke-width="0.15">0.9</text>
<circle cx="182.3" cy="23.5" r="1.7" fill="#ff0000"/>
<circle cx="226.6" cy="23.5" r="1.7" fill="#ff0000"/>
<circle cx="281.2" cy="23.5" r="1.7" fill="#ff0000"/>
<circle cx="348.2" cy="23.5" r="1.7" fill="#ff0000"/>
<circle cx="348.2" cy="70.5" r="1.7" fill="#ff0000"/>
<circle cx="281.2" cy="123.5" r="1.7" fill="#ff0000"/>
<circle cx="226.4" cy="175.5" r="1.7" fill="#ff0000"/>
<circle cx="182.2" cy="228.5" r="1.7" fill="#ff0000"/>
<path d="M215.1,306.3 L218.0,303.9 L220.9,306.3 L218.0,308.7 Z" fill="#ff0000"/>
<line x1="218.0" y1="308.5" x2="218.0" y2="348.5" stroke="#ff0000" stroke-width="0.6"/>
<path d="M215.0,340.8 L221.0,340.8 L218.0,346.2 Z" fill="#ff0000"/>
<text x="213.8" y="345.1" font-size="7.2" font-style="italic" text-anchor="end" fill="#ff0000" textLength="20.6" lengthAdjust="spacingAndGlyphs" stroke="none">0.0439</text>
<text transform="translate(8.7,21) scale(1,1.1)" font-size="7.5" font-style="italic" font-weight="normal" fill="#555" textLength="18.6" lengthAdjust="spacingAndGlyphs" stroke="#555" stroke-width="0.15">Points</text>
<text transform="translate(8.5,57) scale(1,1.12)" font-size="7.7" font-style="normal" font-weight="normal" fill="#262626" textLength="26.0" lengthAdjust="spacingAndGlyphs" stroke="#262626" stroke-width="0.15">UPDRS</text>
<text transform="translate(34.9,56.6) scale(1,1.0)" font-size="7.2" font-style="normal" font-weight="bold" fill="#666" textLength="4.0" lengthAdjust="spacingAndGlyphs" stroke="#666" stroke-width="0.35"><tspan font-family="DejaVu Sans">Ⅲ</tspan></text>
<text transform="translate(39.0,57) scale(1,1.12)" font-size="7.7" font-style="normal" font-weight="normal" fill="#262626" textLength="31.4" lengthAdjust="spacingAndGlyphs" stroke="#262626" stroke-width="0.15">_drug_on</text>
<text transform="translate(8.5,109) scale(1,1.12)" font-size="7.7" font-style="normal" font-weight="normal" fill="#262626" textLength="33.2" lengthAdjust="spacingAndGlyphs" stroke="#262626" stroke-width="0.15">Education</text>
<text transform="translate(8.5,162) scale(1,1.12)" font-size="7.7" font-style="normal" font-weight="normal" fill="#262626" textLength="48.8" lengthAdjust="spacingAndGlyphs" stroke="#262626" stroke-width="0.15">HAMA_preop*</text>
<text transform="translate(8.5,214) scale(1,1.12)" font-size="7.7" font-style="normal" font-weight="normal" fill="#262626" textLength="26.0" lengthAdjust="spacingAndGlyphs" stroke="#262626" stroke-width="0.15">UPDRS</text>
<text transform="translate(34.9,213.6) scale(1,1.0)" font-size="7.2" font-style="normal" font-weight="bold" fill="#666" textLength="4.0" lengthAdjust="spacingAndGlyphs" stroke="#666" stroke-width="0.35"><tspan font-family="DejaVu Sans">Ⅲ</tspan></text>
<text transform="translate(39.0,214) scale(1,1.12)" font-size="7.7" font-style="normal" font-weight="normal" fill="#262626" textLength="30.8" lengthAdjust="spacingAndGlyphs" stroke="#262626" stroke-width="0.15">_drug_off</text>
<text transform="translate(9.0,261) scale(1,1.06)" font-size="7.7" font-style="italic" font-weight="bold" fill="#000" textLength="41.3" lengthAdjust="spacingAndGlyphs" stroke="#000" stroke-width="0.35">Total points</text>
<text transform="translate(75.0,350.5) scale(1,1.12)" font-size="7.7" font-style="italic" font-weight="normal" fill="#555" textLength="15.2" lengthAdjust="spacingAndGlyphs" stroke="#555" stroke-width="0.15">Pr( )</text>
<text transform="translate(276.5,12) scale(1,1.04)" font-size="7.7" font-style="italic" font-weight="bold" fill="#000" textLength="40.2" lengthAdjust="spacingAndGlyphs" stroke="#000" stroke-width="0.35">Nomogram</text>
</g>
</svg>
</body></html>
